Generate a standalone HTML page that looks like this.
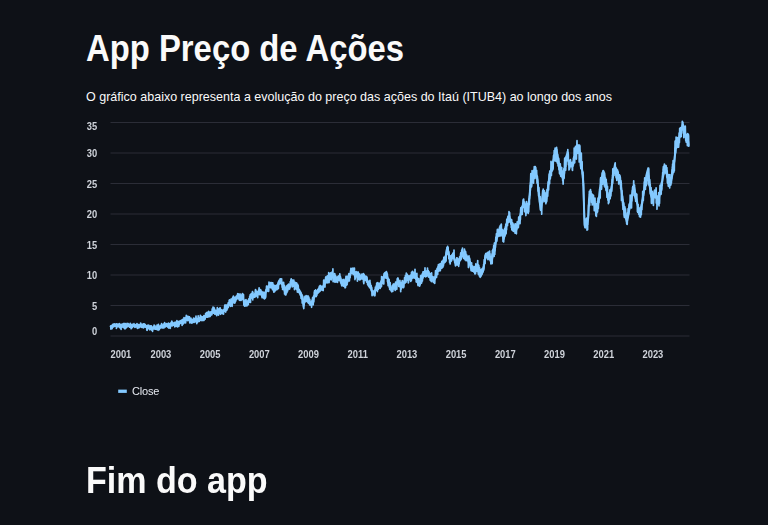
<!DOCTYPE html>
<html lang="pt"><head><meta charset="utf-8"><title>App Preço de Ações</title>
<style>
html,body{margin:0;padding:0;background:#0e1117;}
body{width:768px;height:525px;overflow:hidden;position:relative;font-family:"Liberation Sans",sans-serif;color:#fafafa;}
h1{position:absolute;margin:0;left:85px;font-weight:bold;font-size:36px;line-height:40px;white-space:nowrap;transform-origin:0 0;}
#t1{top:29.2px;left:85.8px;transform:scaleX(0.912);}
#t2{top:460.7px;left:86.1px;transform:scaleX(0.946);}
p{position:absolute;margin:0;left:86px;top:88.7px;font-size:13.2px;line-height:16px;white-space:nowrap;transform-origin:0 0;transform:scaleX(0.949);}
</style></head><body>
<h1 id="t1">App Preço de Ações</h1>
<p id="para">O gráfico abaixo representa a evolução do preço das ações do Itaú (ITUB4) ao longo dos anos</p>
<svg width="768" height="525" viewBox="0 0 768 525" style="position:absolute;left:0;top:0;will-change:transform"><line x1="110.5" x2="689.5" y1="122.5" y2="122.5" stroke="#2b2d37" stroke-width="1"/><line x1="110.5" x2="689.5" y1="153.0" y2="153.0" stroke="#2b2d37" stroke-width="1"/><line x1="110.5" x2="689.5" y1="183.5" y2="183.5" stroke="#2b2d37" stroke-width="1"/><line x1="110.5" x2="689.5" y1="214.0" y2="214.0" stroke="#2b2d37" stroke-width="1"/><line x1="110.5" x2="689.5" y1="244.5" y2="244.5" stroke="#2b2d37" stroke-width="1"/><line x1="110.5" x2="689.5" y1="275.0" y2="275.0" stroke="#2b2d37" stroke-width="1"/><line x1="110.5" x2="689.5" y1="305.5" y2="305.5" stroke="#2b2d37" stroke-width="1"/><line x1="110.5" x2="689.5" y1="336.0" y2="336.0" stroke="#2b2d37" stroke-width="1"/><path d="M110.7 326.4 L111.2 326.3 L111.7 326.3 L112.2 326.2 L112.7 326.2 L113.2 326.1 L113.7 326.1 L114.2 326.0 L114.7 325.9 L115.2 325.9 L115.7 325.8 L116.2 325.8 L116.7 325.7 L117.2 325.7 L117.7 325.6 L118.2 325.5 L118.7 325.5 L119.2 325.4 L119.7 325.4 L120.2 325.4 L120.7 325.5 L121.2 325.5 L121.7 325.5 L122.2 325.6 L122.7 325.6 L123.2 325.6 L123.7 325.7 L124.2 325.7 L124.7 325.7 L125.2 325.7 L125.7 325.8 L126.2 325.8 L126.7 325.8 L127.2 325.9 L127.7 325.9 L128.2 325.9 L128.7 326.0 L129.2 326.0 L129.7 326.0 L130.2 325.9 L130.7 325.9 L131.2 325.9 L131.7 325.9 L132.2 325.8 L132.7 325.8 L133.2 325.8 L133.7 325.7 L134.2 325.7 L134.7 325.7 L135.2 325.6 L135.7 325.6 L136.2 325.6 L136.7 325.5 L137.2 325.5 L137.7 325.5 L138.2 325.5 L138.7 325.4 L139.2 325.5 L139.7 325.5 L140.2 325.6 L140.7 325.7 L141.2 325.8 L141.7 325.9 L142.2 325.9 L142.7 326.0 L143.2 326.1 L143.7 326.2 L144.2 326.3 L144.7 326.4 L145.2 326.5 L145.7 326.6 L146.2 326.8 L146.7 327.0 L147.2 327.2 L147.7 327.3 L148.2 327.5 L148.7 327.7 L149.2 327.8 L149.7 328.0 L150.2 328.2 L150.7 328.3 L151.2 328.3 L151.7 328.2 L152.2 328.1 L152.7 328.1 L153.2 328.0 L153.7 327.9 L154.2 327.8 L154.7 327.7 L155.2 327.6 L155.7 327.5 L156.2 327.4 L156.7 327.3 L157.2 327.3 L157.7 327.2 L158.2 327.1 L158.7 327.0 L159.2 326.9 L159.7 326.8 L160.2 326.6 L160.7 326.5 L161.2 326.4 L161.7 326.3 L162.2 326.2 L162.7 326.1 L163.2 326.0 L163.7 325.9 L164.2 325.7 L164.7 325.6 L165.2 325.5 L165.7 325.4 L166.2 325.3 L166.7 325.2 L167.2 325.1 L167.7 325.0 L168.2 324.9 L168.7 324.8 L169.2 324.7 L169.7 324.6 L170.2 324.6 L170.7 324.5 L171.2 324.4 L171.7 324.4 L172.2 324.3 L172.7 324.2 L173.2 324.2 L173.7 324.1 L174.2 324.0 L174.7 323.9 L175.2 323.9 L175.7 323.8 L176.2 323.7 L176.7 323.7 L177.2 323.6 L177.7 323.5 L178.2 323.4 L178.7 323.1 L179.2 322.9 L179.7 322.7 L180.2 322.4 L180.7 322.2 L181.2 321.9 L181.7 321.7 L182.2 321.4 L182.7 321.1 L183.2 320.9 L183.7 320.6 L184.2 320.2 L184.7 319.6 L185.2 318.9 L185.7 318.3 L186.2 317.7 L186.7 317.2 L187.2 317.1 L187.7 317.7 L188.2 318.4 L188.7 319.1 L189.2 319.8 L189.7 320.4 L190.2 320.8 L190.7 320.9 L191.2 320.8 L191.7 320.8 L192.2 320.7 L192.7 320.6 L193.2 320.6 L193.7 320.5 L194.2 320.5 L194.7 320.4 L195.2 320.3 L195.7 320.3 L196.2 320.2 L196.7 320.1 L197.2 320.1 L197.7 320.0 L198.2 319.8 L198.7 319.6 L199.2 319.4 L199.7 319.2 L200.2 319.0 L200.7 318.8 L201.2 318.7 L201.7 318.5 L202.2 318.3 L202.7 318.1 L203.2 317.9 L203.7 317.7 L204.2 317.5 L204.7 317.3 L205.2 317.1 L205.7 316.8 L206.2 316.4 L206.7 316.0 L207.2 315.6 L207.7 315.3 L208.2 314.9 L208.7 314.5 L209.2 314.1 L209.7 313.7 L210.2 313.3 L210.7 312.9 L211.2 312.5 L211.7 312.1 L212.2 311.7 L212.7 311.3 L213.2 311.0 L213.7 311.0 L214.2 311.1 L214.7 311.2 L215.2 311.3 L215.7 311.4 L216.2 311.6 L216.7 311.7 L217.2 311.7 L217.7 311.7 L218.2 311.6 L218.7 311.6 L219.2 311.5 L219.7 311.4 L220.2 311.4 L220.7 311.3 L221.2 311.2 L221.7 311.2 L222.2 311.1 L222.7 311.0 L223.2 310.7 L223.7 310.3 L224.2 309.8 L224.7 309.3 L225.2 308.8 L225.7 308.3 L226.2 307.8 L226.7 307.3 L227.2 306.8 L227.7 306.3 L228.2 305.8 L228.7 305.3 L229.2 304.8 L229.7 304.2 L230.2 303.7 L230.7 303.2 L231.2 302.6 L231.7 302.1 L232.2 301.5 L232.7 301.0 L233.2 300.4 L233.7 299.9 L234.2 299.4 L234.7 298.8 L235.2 298.3 L235.7 297.8 L236.2 297.4 L236.7 297.2 L237.2 297.0 L237.7 296.9 L238.2 296.7 L238.7 296.6 L239.2 296.5 L239.7 296.6 L240.2 296.7 L240.7 296.9 L241.2 297.1 L241.7 297.3 L242.2 297.6 L242.7 298.4 L243.2 299.4 L243.7 300.4 L244.2 301.4 L244.7 302.4 L245.2 303.3 L245.7 303.4 L246.2 303.0 L246.7 302.5 L247.2 302.0 L247.7 301.4 L248.2 300.8 L248.7 300.3 L249.2 299.8 L249.7 299.3 L250.2 298.8 L250.7 298.3 L251.2 297.8 L251.7 297.3 L252.2 296.8 L252.7 296.3 L253.2 295.9 L253.7 295.4 L254.2 294.9 L254.7 294.4 L255.2 294.0 L255.7 293.7 L256.2 293.4 L256.7 293.0 L257.2 292.7 L257.7 292.4 L258.2 292.3 L258.7 292.2 L259.2 292.2 L259.7 292.2 L260.2 292.3 L260.7 292.4 L261.2 292.8 L261.7 293.7 L262.2 294.6 L262.7 295.5 L263.2 296.3 L263.7 296.6 L264.2 295.5 L264.7 294.3 L265.2 292.9 L265.7 291.6 L266.2 290.2 L266.7 289.4 L267.2 288.5 L267.7 287.7 L268.2 287.0 L268.7 286.3 L269.2 285.9 L269.7 285.6 L270.2 285.3 L270.7 285.0 L271.2 284.8 L271.7 284.7 L272.2 285.1 L272.7 285.9 L273.2 286.7 L273.7 287.6 L274.2 288.4 L274.7 289.2 L275.2 289.6 L275.7 289.0 L276.2 288.3 L276.7 287.6 L277.2 286.6 L277.7 285.4 L278.2 284.2 L278.7 283.1 L279.2 282.8 L279.7 282.5 L280.2 282.3 L280.7 282.2 L281.2 282.2 L281.7 282.2 L282.2 283.4 L282.7 285.0 L283.2 286.6 L283.7 288.3 L284.2 289.8 L284.7 291.0 L285.2 292.1 L285.7 292.3 L286.2 291.4 L286.7 290.3 L287.2 289.1 L287.7 288.2 L288.2 287.9 L288.7 287.6 L289.2 287.3 L289.7 287.1 L290.2 286.7 L290.7 285.5 L291.2 284.2 L291.7 282.8 L292.2 281.6 L292.7 280.6 L293.2 281.3 L293.7 282.5 L294.2 283.8 L294.7 285.2 L295.2 286.2 L295.7 286.9 L296.2 287.5 L296.7 288.1 L297.2 288.7 L297.7 289.3 L298.2 289.8 L298.7 290.3 L299.2 290.8 L299.7 291.3 L300.2 291.9 L300.7 292.6 L301.2 293.8 L301.7 295.1 L302.2 296.7 L302.7 298.1 L303.2 302.7 L303.7 305.7 L304.2 302.7 L304.7 299.9 L305.2 299.0 L305.7 298.0 L306.2 297.4 L306.7 296.9 L307.2 297.4 L307.7 298.2 L308.2 299.1 L308.7 300.0 L309.2 300.8 L309.7 301.5 L310.2 302.1 L310.7 302.6 L311.2 303.1 L311.7 302.9 L312.2 301.8 L312.7 300.7 L313.2 299.5 L313.7 298.3 L314.2 297.2 L314.7 296.1 L315.2 295.1 L315.7 294.1 L316.2 293.4 L316.7 293.1 L317.2 292.8 L317.7 292.6 L318.2 292.3 L318.7 291.9 L319.2 291.4 L319.7 290.9 L320.2 290.4 L320.7 289.8 L321.2 289.3 L321.7 288.8 L322.2 288.2 L322.7 287.4 L323.2 286.4 L323.7 285.5 L324.2 284.5 L324.7 283.6 L325.2 282.6 L325.7 281.8 L326.2 281.1 L326.7 280.4 L327.2 279.7 L327.7 279.0 L328.2 278.3 L328.7 277.7 L329.2 277.0 L329.7 276.3 L330.2 275.6 L330.7 275.0 L331.2 274.5 L331.7 274.0 L332.2 275.0 L332.7 276.1 L333.2 277.2 L333.7 278.3 L334.2 279.3 L334.7 279.4 L335.2 279.1 L335.7 278.8 L336.2 278.4 L336.7 278.0 L337.2 277.7 L337.7 277.5 L338.2 277.3 L338.7 277.2 L339.2 277.1 L339.7 277.4 L340.2 278.3 L340.7 279.2 L341.2 280.2 L341.7 281.1 L342.2 282.0 L342.7 282.7 L343.2 283.3 L343.7 283.8 L344.2 284.3 L344.7 284.6 L345.2 283.4 L345.7 282.1 L346.2 280.7 L346.7 279.3 L347.2 278.4 L347.7 277.6 L348.2 277.0 L348.7 276.3 L349.2 275.6 L349.7 274.9 L350.2 274.2 L350.7 273.4 L351.2 272.6 L351.7 271.9 L352.2 271.2 L352.7 271.0 L353.2 271.5 L353.7 272.1 L354.2 272.7 L354.7 273.4 L355.2 274.0 L355.7 274.6 L356.2 275.0 L356.7 275.4 L357.2 275.7 L357.7 276.1 L358.2 276.4 L358.7 276.7 L359.2 276.9 L359.7 277.1 L360.2 277.3 L360.7 277.5 L361.2 277.7 L361.7 277.8 L362.2 278.0 L362.7 278.2 L363.2 278.4 L363.7 278.6 L364.2 278.8 L364.7 279.0 L365.2 279.2 L365.7 279.4 L366.2 279.6 L366.7 279.8 L367.2 280.2 L367.7 280.9 L368.2 281.6 L368.7 282.5 L369.2 283.3 L369.7 284.2 L370.2 285.8 L370.7 287.5 L371.2 289.1 L371.7 290.6 L372.2 291.3 L372.7 291.6 L373.2 291.9 L373.7 292.0 L374.2 292.1 L374.7 291.6 L375.2 290.7 L375.7 289.8 L376.2 288.9 L376.7 288.1 L377.2 287.5 L377.7 287.0 L378.2 286.5 L378.7 286.0 L379.2 285.4 L379.7 284.8 L380.2 283.9 L380.7 282.9 L381.2 282.0 L381.7 281.0 L382.2 280.0 L382.7 279.0 L383.2 277.8 L383.7 276.6 L384.2 275.5 L384.7 274.4 L385.2 273.5 L385.7 273.6 L386.2 274.4 L386.7 275.4 L387.2 276.5 L387.7 278.1 L388.2 280.0 L388.7 281.9 L389.2 283.8 L389.7 285.5 L390.2 286.8 L390.7 288.1 L391.2 289.2 L391.7 289.2 L392.2 289.0 L392.7 288.5 L393.2 288.0 L393.7 287.4 L394.2 286.8 L394.7 286.2 L395.2 285.5 L395.7 284.6 L396.2 283.8 L396.7 283.0 L397.2 282.2 L397.7 281.5 L398.2 281.0 L398.7 282.0 L399.2 283.5 L399.7 285.1 L400.2 286.6 L400.7 287.6 L401.2 287.1 L401.7 286.4 L402.2 285.7 L402.7 284.8 L403.2 284.0 L403.7 282.9 L404.2 281.8 L404.7 280.6 L405.2 279.5 L405.7 278.4 L406.2 277.4 L406.7 277.2 L407.2 277.3 L407.7 277.5 L408.2 277.6 L408.7 277.8 L409.2 277.8 L409.7 277.4 L410.2 276.9 L410.7 276.4 L411.2 276.0 L411.7 275.5 L412.2 275.1 L412.7 274.7 L413.2 274.6 L413.7 274.6 L414.2 274.6 L414.7 274.7 L415.2 274.8 L415.7 275.6 L416.2 276.8 L416.7 278.0 L417.2 279.3 L417.7 280.6 L418.2 281.7 L418.7 282.8 L419.2 282.9 L419.7 282.3 L420.2 281.6 L420.7 280.7 L421.2 279.9 L421.7 279.1 L422.2 278.3 L422.7 277.4 L423.2 276.6 L423.7 275.7 L424.2 274.9 L424.7 274.1 L425.2 273.5 L425.7 273.2 L426.2 272.9 L426.7 272.7 L427.2 272.6 L427.7 272.9 L428.2 273.7 L428.7 274.4 L429.2 275.2 L429.7 276.0 L430.2 276.8 L430.7 277.6 L431.2 278.0 L431.7 278.2 L432.2 278.4 L432.7 278.5 L433.2 278.6 L433.7 278.7 L434.2 278.8 L434.7 278.7 L435.2 277.5 L435.7 275.7 L436.2 273.8 L436.7 271.8 L437.2 270.1 L437.7 269.2 L438.2 268.3 L438.7 267.5 L439.2 266.7 L439.7 266.0 L440.2 265.4 L440.7 265.2 L441.2 265.0 L441.7 264.9 L442.2 264.7 L442.7 264.4 L443.2 264.1 L443.7 263.2 L444.2 261.8 L444.7 260.3 L445.2 258.7 L445.7 256.9 L446.2 253.6 L446.7 250.6 L447.2 247.7 L447.7 248.3 L448.2 251.1 L448.7 254.1 L449.2 256.9 L449.7 257.7 L450.2 258.4 L450.7 258.9 L451.2 259.2 L451.7 258.6 L452.2 257.6 L452.7 256.6 L453.2 256.1 L453.7 257.5 L454.2 259.0 L454.7 260.5 L455.2 262.0 L455.7 262.6 L456.2 262.4 L456.7 262.1 L457.2 261.7 L457.7 261.3 L458.2 260.9 L458.7 260.2 L459.2 259.4 L459.7 258.6 L460.2 257.8 L460.7 257.0 L461.2 256.2 L461.7 255.6 L462.2 255.0 L462.7 254.4 L463.2 253.9 L463.7 253.5 L464.2 253.7 L464.7 254.8 L465.2 255.9 L465.7 257.1 L466.2 258.2 L466.7 259.0 L467.2 259.7 L467.7 260.3 L468.2 260.9 L468.7 261.6 L469.2 262.5 L469.7 263.8 L470.2 265.2 L470.7 266.7 L471.2 268.1 L471.7 269.4 L472.2 270.4 L472.7 270.8 L473.2 271.1 L473.7 271.3 L474.2 271.5 L474.7 271.5 L475.2 270.4 L475.7 269.2 L476.2 268.0 L476.7 266.7 L477.2 265.7 L477.7 264.8 L478.2 266.6 L478.7 268.5 L479.2 270.6 L479.7 272.7 L480.2 274.6 L480.7 275.9 L481.2 275.1 L481.7 274.1 L482.2 273.0 L482.7 271.7 L483.2 270.2 L483.7 267.9 L484.2 264.3 L484.7 260.7 L485.2 257.2 L485.7 255.0 L486.2 254.6 L486.7 254.3 L487.2 254.3 L487.7 254.4 L488.2 254.6 L488.7 255.4 L489.2 256.8 L489.7 258.2 L490.2 259.6 L490.7 260.9 L491.2 261.9 L491.7 260.6 L492.2 258.5 L492.7 256.2 L493.2 253.8 L493.7 251.4 L494.2 249.0 L494.7 246.8 L495.2 244.8 L495.7 242.8 L496.2 240.8 L496.7 238.9 L497.2 237.4 L497.7 236.3 L498.2 235.3 L498.7 234.3 L499.2 233.2 L499.7 232.2 L500.2 231.3 L500.7 230.5 L501.2 229.8 L501.7 230.8 L502.2 233.0 L502.7 235.1 L503.2 237.2 L503.7 239.0 L504.2 236.9 L504.7 234.6 L505.2 232.0 L505.7 229.2 L506.2 226.5 L506.7 223.8 L507.2 221.1 L507.7 218.6 L508.2 216.3 L508.7 216.4 L509.2 217.3 L509.7 218.3 L510.2 219.5 L510.7 220.6 L511.2 221.8 L511.7 222.9 L512.2 223.8 L512.7 224.7 L513.2 225.6 L513.7 226.5 L514.2 227.3 L514.7 228.2 L515.2 229.0 L515.7 229.7 L516.2 230.2 L516.7 229.0 L517.2 227.3 L517.7 225.4 L518.2 223.3 L518.7 221.3 L519.2 219.3 L519.7 217.3 L520.2 215.4 L520.7 213.4 L521.2 211.4 L521.7 209.5 L522.2 207.5 L522.7 205.7 L523.2 203.9 L523.7 202.4 L524.2 202.9 L524.7 204.1 L525.2 205.4 L525.7 206.9 L526.2 208.4 L526.7 209.7 L527.2 210.7 L527.7 211.4 L528.2 207.6 L528.7 203.5 L529.2 199.0 L529.7 194.5 L530.2 189.9 L530.7 185.6 L531.2 181.3 L531.7 179.0 L532.2 176.8 L532.7 174.8 L533.2 173.0 L533.7 171.3 L534.2 170.3 L534.7 171.3 L535.2 172.5 L535.7 173.9 L536.2 175.3 L536.7 177.0 L537.2 178.8 L537.7 182.8 L538.2 187.4 L538.7 192.2 L539.2 197.1 L539.7 201.8 L540.2 206.1 L540.7 209.9 L541.2 207.9 L541.7 204.2 L542.2 200.1 L542.7 196.0 L543.2 192.2 L543.7 192.4 L544.2 194.0 L544.7 195.8 L545.2 197.6 L545.7 199.2 L546.2 198.9 L546.7 195.9 L547.2 192.6 L547.7 189.1 L548.2 185.5 L548.7 182.0 L549.2 178.6 L549.7 175.7 L550.2 173.5 L550.7 171.3 L551.2 169.3 L551.7 167.3 L552.2 165.3 L552.7 163.2 L553.2 161.3 L553.7 159.5 L554.2 157.6 L554.7 155.8 L555.2 154.0 L555.7 152.5 L556.2 151.2 L556.7 152.5 L557.2 154.6 L557.7 156.9 L558.2 159.5 L558.7 162.0 L559.2 164.4 L559.7 166.9 L560.2 168.9 L560.7 170.9 L561.2 172.9 L561.7 174.8 L562.2 176.6 L562.7 178.1 L563.2 179.3 L563.7 176.0 L564.2 172.5 L564.7 168.6 L565.2 164.6 L565.7 160.8 L566.2 157.3 L566.7 154.9 L567.2 156.2 L567.7 157.8 L568.2 159.7 L568.7 161.7 L569.2 163.6 L569.7 165.4 L570.2 166.3 L570.7 165.9 L571.2 165.4 L571.7 164.8 L572.2 164.1 L572.7 163.4 L573.2 162.6 L573.7 161.2 L574.2 159.2 L574.7 157.1 L575.2 155.0 L575.7 152.9 L576.2 151.4 L576.7 150.1 L577.2 148.9 L577.7 147.8 L578.2 147.0 L578.7 146.4 L579.2 149.3 L579.7 152.4 L580.2 155.7 L580.7 159.2 L581.2 162.7 L581.7 166.5 L582.2 171.0 L582.7 176.3 L583.2 182.2 L583.7 196.9 L584.2 213.5 L584.7 224.1 L585.2 225.7 L585.7 226.2 L586.2 225.7 L586.7 224.7 L587.2 222.9 L587.7 220.6 L588.2 218.0 L588.7 208.6 L589.2 199.1 L589.7 197.1 L590.2 195.3 L590.7 194.2 L591.2 194.9 L591.7 196.0 L592.2 197.2 L592.7 198.6 L593.2 200.1 L593.7 201.9 L594.2 203.7 L594.7 205.6 L595.2 207.9 L595.7 210.0 L596.2 211.8 L596.7 212.6 L597.2 209.7 L597.7 206.5 L598.2 203.0 L598.7 199.4 L599.2 195.8 L599.7 192.2 L600.2 188.8 L600.7 185.5 L601.2 182.3 L601.7 179.1 L602.2 176.0 L602.7 173.2 L603.2 170.8 L603.7 172.3 L604.2 175.0 L604.7 178.1 L605.2 181.4 L605.7 184.7 L606.2 187.9 L606.7 191.2 L607.2 194.3 L607.7 197.1 L608.2 199.7 L608.7 199.1 L609.2 197.5 L609.7 195.7 L610.2 193.7 L610.7 191.5 L611.2 189.3 L611.7 186.2 L612.2 182.5 L612.7 178.7 L613.2 174.9 L613.7 171.4 L614.2 168.2 L614.7 167.3 L615.2 169.8 L615.7 172.5 L616.2 175.4 L616.7 178.1 L617.2 178.2 L617.7 177.5 L618.2 176.6 L618.7 175.9 L619.2 175.3 L619.7 177.1 L620.2 180.6 L620.7 184.2 L621.2 188.1 L621.7 192.0 L622.2 195.9 L622.7 199.3 L623.2 202.6 L623.7 205.8 L624.2 208.9 L624.7 211.8 L625.2 214.0 L625.7 216.0 L626.2 217.9 L626.7 219.5 L627.2 220.9 L627.7 218.5 L628.2 216.0 L628.7 213.2 L629.2 210.2 L629.7 207.3 L630.2 204.4 L630.7 201.5 L631.2 199.1 L631.7 196.8 L632.2 194.4 L632.7 192.1 L633.2 190.0 L633.7 188.2 L634.2 188.0 L634.7 190.2 L635.2 192.7 L635.7 195.4 L636.2 198.1 L636.7 200.7 L637.2 203.4 L637.7 205.2 L638.2 207.0 L638.7 208.8 L639.2 210.4 L639.7 211.8 L640.2 212.9 L640.7 210.4 L641.2 207.7 L641.7 204.7 L642.2 201.6 L642.7 198.5 L643.2 195.4 L643.7 192.3 L644.2 189.4 L644.7 186.5 L645.2 183.5 L645.7 180.6 L646.2 177.7 L646.7 174.9 L647.2 172.5 L647.7 170.4 L648.2 173.0 L648.7 177.1 L649.2 181.5 L649.7 186.0 L650.2 190.4 L650.7 194.2 L651.2 196.1 L651.7 197.7 L652.2 199.0 L652.7 200.1 L653.2 199.2 L653.7 197.0 L654.2 194.8 L654.7 192.7 L655.2 191.5 L655.7 193.4 L656.2 195.5 L656.7 197.8 L657.2 199.9 L657.7 201.8 L658.2 201.3 L658.7 199.2 L659.2 196.7 L659.7 194.1 L660.2 191.4 L660.7 188.8 L661.2 186.2 L661.7 183.7 L662.2 181.2 L662.7 178.7 L663.2 176.1 L663.7 173.7 L664.2 171.4 L664.7 169.3 L665.2 168.8 L665.7 170.4 L666.2 172.3 L666.7 174.3 L667.2 176.4 L667.7 178.3 L668.2 179.5 L668.7 180.6 L669.2 181.6 L669.7 182.5 L670.2 183.1 L670.7 182.6 L671.2 180.5 L671.7 178.1 L672.2 175.5 L672.7 172.9 L673.2 170.1 L673.7 166.5 L674.2 162.2 L674.7 157.9 L675.2 153.5 L675.7 149.2 L676.2 145.1 L676.7 141.4 L677.2 140.5 L677.7 141.5 L678.2 142.6 L678.7 140.9 L679.2 138.4 L679.7 135.9 L680.2 134.0 L680.7 132.1 L681.2 130.3 L681.7 128.7 L682.2 127.3 L682.7 126.1 L683.2 125.1 L683.7 127.6 L684.2 130.2 L684.7 132.9 L685.2 135.1 L685.7 137.1 L686.2 138.8 L686.7 138.6 L687.2 137.9 L687.7 138.2 L688.2 142.0 L688.7 146.0" fill="none" stroke="#83c9ff" stroke-width="2.0" stroke-linejoin="round" stroke-linecap="round"/><path d="M110.7 326.0 L110.8 326.9 L110.9 329.1 L111.0 326.5 L111.1 326.3 L111.2 325.7 L111.3 325.6 L111.4 325.7 L111.5 326.1 L111.6 325.6 L111.7 325.7 L111.8 326.5 L111.9 326.6 L112.0 326.2 L112.1 328.6 L112.2 327.6 L112.3 326.9 L112.4 326.2 L112.5 326.3 L112.6 325.8 L112.7 326.0 L112.8 324.4 L112.9 324.9 L113.0 325.1 L113.1 326.8 L113.2 326.9 L113.3 324.2 L113.4 324.3 L113.5 326.9 L113.6 324.8 L113.7 327.0 L113.8 324.1 L113.9 325.0 L114.0 324.0 L114.1 325.1 L114.2 324.9 L114.3 325.5 L114.4 323.9 L114.5 324.7 L114.6 325.5 L114.7 324.8 L114.8 325.3 L114.9 324.8 L115.0 324.2 L115.1 325.4 L115.2 325.0 L115.3 325.5 L115.4 324.7 L115.5 324.9 L115.6 325.0 L115.7 326.2 L115.8 324.7 L115.9 324.0 L116.0 326.4 L116.1 325.5 L116.2 326.0 L116.3 323.9 L116.4 328.4 L116.5 327.5 L116.6 326.9 L116.7 325.8 L116.8 325.6 L116.9 324.8 L117.0 326.3 L117.1 324.1 L117.2 325.3 L117.3 326.8 L117.4 326.3 L117.5 326.0 L117.6 325.3 L117.7 324.7 L117.8 325.0 L117.9 324.1 L118.0 325.5 L118.1 324.9 L118.2 325.2 L118.3 324.4 L118.4 325.3 L118.5 325.0 L118.6 326.7 L118.7 325.2 L118.8 326.3 L118.9 325.4 L119.0 326.7 L119.1 326.0 L119.2 324.9 L119.3 323.6 L119.4 326.9 L119.5 325.7 L119.6 327.5 L119.7 326.2 L119.8 325.9 L119.9 327.3 L120.0 327.2 L120.1 327.5 L120.2 325.4 L120.3 328.1 L120.4 327.4 L120.5 326.4 L120.6 325.4 L120.7 327.1 L120.8 324.3 L120.9 325.4 L121.0 325.9 L121.1 329.4 L121.2 324.5 L121.3 326.7 L121.4 328.0 L121.5 326.2 L121.6 324.5 L121.7 326.0 L121.8 326.5 L121.9 325.7 L122.0 326.0 L122.1 326.0 L122.2 324.1 L122.3 325.7 L122.4 326.2 L122.5 326.2 L122.6 326.8 L122.7 324.8 L122.8 325.7 L122.9 326.2 L123.0 327.1 L123.1 325.0 L123.2 323.8 L123.3 324.3 L123.4 325.7 L123.5 324.6 L123.6 327.4 L123.7 325.3 L123.8 325.8 L123.9 326.2 L124.0 323.4 L124.1 326.9 L124.2 328.1 L124.3 326.6 L124.4 326.8 L124.5 325.9 L124.6 326.9 L124.7 326.8 L124.8 328.4 L124.9 328.9 L125.0 326.6 L125.1 326.4 L125.2 324.2 L125.3 323.5 L125.4 326.1 L125.5 326.2 L125.6 327.1 L125.7 328.5 L125.8 324.2 L125.9 327.1 L126.0 326.9 L126.1 325.4 L126.2 325.4 L126.3 325.2 L126.4 324.7 L126.5 326.9 L126.6 325.7 L126.7 324.7 L126.8 323.9 L126.9 327.3 L127.0 325.5 L127.1 323.4 L127.2 325.3 L127.3 324.4 L127.4 324.8 L127.5 325.4 L127.6 325.8 L127.7 324.0 L127.8 325.9 L127.9 325.0 L128.0 325.3 L128.1 325.3 L128.2 323.7 L128.3 325.7 L128.4 324.9 L128.5 325.2 L128.6 325.8 L128.7 326.2 L128.8 324.9 L128.9 325.8 L129.0 325.9 L129.1 325.8 L129.2 325.3 L129.3 326.2 L129.4 327.1 L129.5 325.9 L129.6 324.6 L129.7 324.9 L129.8 326.7 L129.9 325.7 L130.0 325.5 L130.1 323.6 L130.2 326.2 L130.3 323.4 L130.4 327.3 L130.5 326.1 L130.6 326.9 L130.7 326.7 L130.8 325.2 L130.9 326.2 L131.0 325.6 L131.1 328.8 L131.2 327.5 L131.3 328.5 L131.4 325.8 L131.5 326.8 L131.6 326.0 L131.7 326.8 L131.8 327.6 L131.9 326.9 L132.0 324.3 L132.1 324.3 L132.2 327.3 L132.3 327.5 L132.4 325.5 L132.5 325.5 L132.6 326.5 L132.7 326.4 L132.8 324.4 L132.9 325.7 L133.0 325.0 L133.1 325.7 L133.2 325.3 L133.3 324.4 L133.4 325.5 L133.5 326.5 L133.6 324.9 L133.7 324.3 L133.8 326.2 L133.9 325.8 L134.0 323.7 L134.1 326.2 L134.2 325.5 L134.3 325.6 L134.4 324.5 L134.5 325.1 L134.6 324.9 L134.7 325.5 L134.8 325.3 L134.9 327.4 L135.0 326.6 L135.1 326.8 L135.2 326.3 L135.3 327.1 L135.4 326.6 L135.5 326.8 L135.6 325.6 L135.7 324.9 L135.8 324.6 L135.9 325.1 L136.0 326.6 L136.1 325.8 L136.2 327.0 L136.3 325.3 L136.4 325.0 L136.5 324.9 L136.6 325.8 L136.7 326.8 L136.8 325.7 L136.9 327.2 L137.0 323.5 L137.1 325.9 L137.2 326.6 L137.3 326.1 L137.4 328.4 L137.5 325.6 L137.6 326.1 L137.7 325.6 L137.8 324.5 L137.9 327.3 L138.0 326.3 L138.1 326.9 L138.2 324.9 L138.3 328.0 L138.4 324.6 L138.5 326.5 L138.6 325.1 L138.7 325.3 L138.8 325.2 L138.9 326.4 L139.0 327.8 L139.1 325.7 L139.2 325.6 L139.3 325.1 L139.4 325.1 L139.5 327.4 L139.6 325.5 L139.7 326.2 L139.8 324.6 L139.9 324.7 L140.0 325.1 L140.1 326.0 L140.2 324.4 L140.3 325.9 L140.4 326.8 L140.5 326.6 L140.6 323.0 L140.7 323.2 L140.8 326.6 L140.9 325.5 L141.0 325.5 L141.1 325.3 L141.2 326.7 L141.3 324.0 L141.4 325.5 L141.5 325.6 L141.6 325.8 L141.7 325.7 L141.8 327.4 L141.9 326.3 L142.0 326.4 L142.1 326.3 L142.2 326.4 L142.3 325.3 L142.4 325.2 L142.5 326.8 L142.6 324.3 L142.7 325.8 L142.8 326.1 L142.9 326.4 L143.0 327.5 L143.1 325.9 L143.2 323.9 L143.3 324.9 L143.4 325.8 L143.5 327.9 L143.6 326.4 L143.7 327.0 L143.8 327.0 L143.9 326.5 L144.0 323.8 L144.1 324.0 L144.2 325.4 L144.3 326.0 L144.4 326.3 L144.5 326.7 L144.6 324.7 L144.7 324.0 L144.8 326.3 L144.9 326.0 L145.0 326.9 L145.1 326.5 L145.2 326.8 L145.3 324.7 L145.4 325.5 L145.5 326.1 L145.6 327.1 L145.7 326.0 L145.8 326.5 L145.9 326.0 L146.0 326.0 L146.1 327.5 L146.2 325.7 L146.3 326.4 L146.4 327.6 L146.5 327.2 L146.6 326.7 L146.7 327.1 L146.8 330.1 L146.9 327.5 L147.0 328.6 L147.1 330.0 L147.2 330.3 L147.3 325.5 L147.4 326.7 L147.5 326.7 L147.6 328.1 L147.7 328.0 L147.8 328.2 L147.9 325.7 L148.0 325.2 L148.1 326.4 L148.2 327.7 L148.3 328.1 L148.4 327.4 L148.5 327.8 L148.6 328.1 L148.7 327.6 L148.8 326.5 L148.9 325.4 L149.0 326.5 L149.1 328.1 L149.2 329.1 L149.3 328.0 L149.4 327.4 L149.5 327.3 L149.6 328.1 L149.7 326.9 L149.8 328.9 L149.9 329.8 L150.0 326.9 L150.1 327.0 L150.2 327.4 L150.3 327.4 L150.4 329.0 L150.5 325.9 L150.6 328.0 L150.7 326.2 L150.8 326.9 L150.9 328.7 L151.0 329.0 L151.1 328.6 L151.2 329.1 L151.3 325.8 L151.4 328.1 L151.5 327.7 L151.6 326.8 L151.7 330.1 L151.8 327.5 L151.9 327.2 L152.0 327.1 L152.1 328.0 L152.2 328.1 L152.3 327.8 L152.4 330.1 L152.5 328.3 L152.6 331.4 L152.7 328.2 L152.8 328.3 L152.9 327.2 L153.0 328.8 L153.1 327.6 L153.2 328.0 L153.3 328.9 L153.4 328.3 L153.5 326.4 L153.6 328.3 L153.7 328.2 L153.8 328.3 L153.9 327.0 L154.0 328.2 L154.1 325.2 L154.2 328.1 L154.3 326.8 L154.4 329.0 L154.5 327.4 L154.6 327.4 L154.7 327.9 L154.8 325.5 L154.9 328.6 L155.0 326.1 L155.1 328.4 L155.2 327.1 L155.3 328.9 L155.4 329.2 L155.5 327.4 L155.6 327.6 L155.7 329.1 L155.8 327.0 L155.9 328.4 L156.0 327.6 L156.1 327.6 L156.2 328.2 L156.3 328.6 L156.4 328.4 L156.5 329.3 L156.6 329.0 L156.7 328.3 L156.8 327.2 L156.9 328.2 L157.0 325.0 L157.1 327.2 L157.2 327.8 L157.3 329.3 L157.4 326.4 L157.5 326.1 L157.6 327.4 L157.7 326.9 L157.8 326.4 L157.9 326.5 L158.0 326.0 L158.1 330.3 L158.2 327.1 L158.3 325.8 L158.4 324.3 L158.5 327.0 L158.6 326.1 L158.7 326.6 L158.8 327.1 L158.9 328.1 L159.0 326.1 L159.1 327.8 L159.2 327.8 L159.3 329.6 L159.4 328.7 L159.5 326.2 L159.6 326.6 L159.7 326.6 L159.8 327.0 L159.9 328.5 L160.0 327.3 L160.1 327.5 L160.2 327.8 L160.3 326.2 L160.4 327.3 L160.5 326.4 L160.6 326.8 L160.7 328.0 L160.8 326.0 L160.9 325.2 L161.0 325.2 L161.1 327.8 L161.2 325.8 L161.3 326.4 L161.4 326.4 L161.5 325.3 L161.6 323.5 L161.7 326.2 L161.8 326.8 L161.9 324.6 L162.0 325.5 L162.1 325.2 L162.2 326.5 L162.3 327.9 L162.4 327.7 L162.5 326.8 L162.6 326.6 L162.7 327.2 L162.8 326.4 L162.9 327.8 L163.0 326.8 L163.1 326.7 L163.2 327.6 L163.3 326.7 L163.4 326.8 L163.5 326.2 L163.6 324.0 L163.7 326.0 L163.8 325.5 L163.9 326.8 L164.0 327.8 L164.1 326.9 L164.2 325.7 L164.3 324.8 L164.4 325.6 L164.5 325.9 L164.6 322.6 L164.7 324.8 L164.8 326.3 L164.9 323.3 L165.0 325.1 L165.1 325.4 L165.2 326.2 L165.3 325.6 L165.4 327.0 L165.5 325.9 L165.6 326.2 L165.7 326.6 L165.8 325.2 L165.9 324.5 L166.0 324.2 L166.1 326.2 L166.2 324.7 L166.3 324.9 L166.4 323.9 L166.5 325.8 L166.6 325.1 L166.7 323.6 L166.8 325.3 L166.9 324.3 L167.0 325.0 L167.1 326.1 L167.2 324.5 L167.3 324.4 L167.4 324.1 L167.5 325.3 L167.6 326.4 L167.7 326.4 L167.8 327.1 L167.9 324.0 L168.0 327.5 L168.1 327.0 L168.2 326.1 L168.3 324.2 L168.4 323.0 L168.5 326.2 L168.6 324.9 L168.7 324.9 L168.8 326.5 L168.9 328.1 L169.0 325.3 L169.1 326.3 L169.2 326.8 L169.3 325.7 L169.4 325.2 L169.5 325.6 L169.6 325.1 L169.7 324.9 L169.8 324.7 L169.9 323.6 L170.0 325.3 L170.1 325.1 L170.2 326.1 L170.3 328.3 L170.4 325.1 L170.5 325.4 L170.6 324.9 L170.7 324.2 L170.8 324.2 L170.9 324.3 L171.0 325.4 L171.1 322.4 L171.2 322.8 L171.3 324.3 L171.4 323.6 L171.5 323.0 L171.6 323.1 L171.7 322.9 L171.8 321.2 L171.9 324.9 L172.0 322.8 L172.1 326.1 L172.2 322.6 L172.3 324.6 L172.4 322.0 L172.5 323.9 L172.6 324.1 L172.7 323.6 L172.8 323.2 L172.9 324.3 L173.0 324.5 L173.1 324.1 L173.2 324.8 L173.3 324.0 L173.4 323.7 L173.5 325.1 L173.6 324.4 L173.7 324.7 L173.8 324.0 L173.9 325.5 L174.0 324.9 L174.1 323.7 L174.2 322.5 L174.3 323.7 L174.4 323.9 L174.5 325.5 L174.6 325.9 L174.7 324.4 L174.8 327.0 L174.9 322.3 L175.0 322.5 L175.1 323.8 L175.2 324.8 L175.3 323.9 L175.4 325.0 L175.5 324.8 L175.6 324.9 L175.7 325.7 L175.8 326.2 L175.9 323.5 L176.0 323.2 L176.1 321.8 L176.2 323.1 L176.3 326.2 L176.4 324.7 L176.5 324.7 L176.6 323.8 L176.7 323.4 L176.8 324.6 L176.9 320.7 L177.0 324.9 L177.1 324.5 L177.2 325.6 L177.3 324.6 L177.4 327.0 L177.5 325.2 L177.6 325.1 L177.7 325.4 L177.8 323.4 L177.9 324.2 L178.0 321.5 L178.1 324.3 L178.2 321.6 L178.3 321.5 L178.4 323.8 L178.5 323.5 L178.6 321.6 L178.7 324.2 L178.8 326.5 L178.9 324.5 L179.0 324.2 L179.1 324.2 L179.2 323.4 L179.3 321.9 L179.4 324.8 L179.5 323.6 L179.6 323.2 L179.7 321.4 L179.8 321.5 L179.9 321.2 L180.0 320.9 L180.1 321.0 L180.2 321.7 L180.3 322.0 L180.4 322.8 L180.5 321.2 L180.6 322.5 L180.7 323.1 L180.8 320.7 L180.9 321.3 L181.0 321.1 L181.1 321.4 L181.2 321.1 L181.3 320.7 L181.4 322.6 L181.5 321.7 L181.6 322.5 L181.7 320.2 L181.8 321.1 L181.9 321.1 L182.0 322.3 L182.1 325.5 L182.2 322.6 L182.3 320.6 L182.4 320.2 L182.5 323.2 L182.6 320.8 L182.7 321.9 L182.8 319.4 L182.9 320.1 L183.0 322.6 L183.1 321.7 L183.2 322.0 L183.3 324.0 L183.4 319.9 L183.5 322.4 L183.6 321.6 L183.7 321.9 L183.8 323.4 L183.9 322.6 L184.0 317.5 L184.1 321.0 L184.2 320.1 L184.3 321.2 L184.4 319.7 L184.5 321.0 L184.6 321.7 L184.7 319.8 L184.8 319.6 L184.9 319.7 L185.0 318.4 L185.1 319.7 L185.2 321.9 L185.3 320.3 L185.4 320.0 L185.5 321.1 L185.6 323.0 L185.7 318.9 L185.8 319.4 L185.9 319.0 L186.0 318.7 L186.1 317.0 L186.2 319.0 L186.3 315.3 L186.4 315.6 L186.5 319.6 L186.6 320.3 L186.7 317.1 L186.8 318.2 L186.9 316.0 L187.0 318.1 L187.1 318.0 L187.2 318.6 L187.3 318.5 L187.4 316.4 L187.5 320.3 L187.6 319.1 L187.7 320.6 L187.8 318.3 L187.9 318.5 L188.0 319.8 L188.1 316.5 L188.2 316.9 L188.3 317.9 L188.4 319.6 L188.5 319.7 L188.6 316.7 L188.7 319.9 L188.8 320.2 L188.9 319.4 L189.0 320.4 L189.1 319.1 L189.2 318.4 L189.3 317.6 L189.4 316.8 L189.5 318.4 L189.6 318.9 L189.7 319.8 L189.8 323.0 L189.9 321.4 L190.0 321.0 L190.1 319.9 L190.2 322.1 L190.3 321.0 L190.4 320.3 L190.5 320.4 L190.6 321.1 L190.7 319.0 L190.8 320.7 L190.9 318.0 L191.0 320.2 L191.1 319.1 L191.2 322.9 L191.3 319.0 L191.4 320.5 L191.5 321.3 L191.6 321.7 L191.7 319.7 L191.8 323.2 L191.9 321.2 L192.0 322.3 L192.1 322.4 L192.2 321.9 L192.3 322.2 L192.4 321.1 L192.5 319.7 L192.6 320.4 L192.7 321.4 L192.8 322.6 L192.9 319.6 L193.0 321.3 L193.1 321.3 L193.2 319.5 L193.3 320.5 L193.4 321.4 L193.5 321.7 L193.6 318.0 L193.7 321.1 L193.8 319.5 L193.9 319.9 L194.0 320.4 L194.1 318.3 L194.2 322.3 L194.3 321.6 L194.4 319.2 L194.5 320.4 L194.6 319.7 L194.7 319.0 L194.8 320.5 L194.9 320.2 L195.0 321.0 L195.1 318.3 L195.2 320.2 L195.3 318.8 L195.4 321.8 L195.5 321.6 L195.6 318.5 L195.7 320.6 L195.8 319.5 L195.9 318.4 L196.0 316.0 L196.1 319.4 L196.2 320.2 L196.3 320.5 L196.4 318.1 L196.5 320.1 L196.6 319.4 L196.7 321.1 L196.8 323.7 L196.9 321.5 L197.0 321.6 L197.1 320.7 L197.2 322.2 L197.3 320.1 L197.4 322.5 L197.5 320.1 L197.6 320.0 L197.7 319.5 L197.8 319.9 L197.9 318.9 L198.0 320.5 L198.1 318.9 L198.2 315.8 L198.3 319.9 L198.4 320.2 L198.5 321.1 L198.6 319.6 L198.7 320.4 L198.8 321.4 L198.9 318.4 L199.0 320.7 L199.1 320.8 L199.2 321.3 L199.3 320.9 L199.4 320.4 L199.5 321.2 L199.6 319.2 L199.7 320.7 L199.8 318.4 L199.9 317.3 L200.0 319.3 L200.1 319.4 L200.2 318.7 L200.3 318.6 L200.4 315.3 L200.5 316.0 L200.6 317.0 L200.7 317.1 L200.8 318.4 L200.9 318.8 L201.0 320.1 L201.1 319.2 L201.2 317.7 L201.3 320.2 L201.4 319.3 L201.5 318.1 L201.6 316.7 L201.7 318.7 L201.8 318.9 L201.9 320.6 L202.0 318.9 L202.1 317.6 L202.2 318.3 L202.3 319.4 L202.4 318.9 L202.5 319.8 L202.6 316.9 L202.7 317.3 L202.8 316.9 L202.9 319.8 L203.0 320.5 L203.1 316.7 L203.2 318.1 L203.3 319.2 L203.4 317.4 L203.5 318.0 L203.6 318.5 L203.7 319.0 L203.8 318.4 L203.9 315.6 L204.0 320.4 L204.1 319.2 L204.2 319.2 L204.3 317.0 L204.4 317.3 L204.5 317.8 L204.6 318.0 L204.7 316.9 L204.8 318.5 L204.9 316.7 L205.0 318.7 L205.1 319.1 L205.2 318.2 L205.3 317.6 L205.4 316.9 L205.5 316.7 L205.6 313.6 L205.7 316.0 L205.8 314.9 L205.9 315.2 L206.0 315.6 L206.1 316.2 L206.2 314.6 L206.3 316.4 L206.4 313.6 L206.5 313.4 L206.6 312.7 L206.7 317.1 L206.8 315.5 L206.9 315.4 L207.0 313.9 L207.1 314.1 L207.2 315.3 L207.3 312.3 L207.4 316.4 L207.5 317.1 L207.6 316.7 L207.7 315.8 L207.8 317.0 L207.9 315.4 L208.0 315.0 L208.1 314.3 L208.2 316.5 L208.3 313.2 L208.4 312.3 L208.5 316.8 L208.6 311.4 L208.7 312.5 L208.8 311.5 L208.9 311.6 L209.0 312.3 L209.1 313.0 L209.2 312.2 L209.3 314.3 L209.4 313.2 L209.5 313.1 L209.6 314.8 L209.7 316.4 L209.8 316.6 L209.9 314.8 L210.0 316.1 L210.1 314.2 L210.2 313.5 L210.3 316.4 L210.4 312.4 L210.5 313.5 L210.6 313.0 L210.7 315.5 L210.8 311.9 L210.9 312.1 L211.0 314.1 L211.1 313.5 L211.2 314.6 L211.3 314.6 L211.4 314.7 L211.5 313.8 L211.6 314.8 L211.7 313.1 L211.8 314.5 L211.9 314.6 L212.0 312.3 L212.1 312.3 L212.2 308.9 L212.3 311.2 L212.4 311.9 L212.5 311.5 L212.6 310.2 L212.7 312.9 L212.8 312.2 L212.9 312.2 L213.0 307.2 L213.1 310.0 L213.2 308.3 L213.3 313.1 L213.4 310.0 L213.5 311.0 L213.6 308.4 L213.7 310.7 L213.8 310.0 L213.9 308.1 L214.0 307.6 L214.1 310.2 L214.2 311.9 L214.3 312.0 L214.4 308.5 L214.5 312.3 L214.6 309.4 L214.7 312.8 L214.8 314.1 L214.9 314.0 L215.0 312.3 L215.1 311.7 L215.2 311.2 L215.3 310.8 L215.4 312.5 L215.5 311.2 L215.6 310.5 L215.7 310.3 L215.8 311.8 L215.9 312.3 L216.0 312.2 L216.1 313.7 L216.2 312.7 L216.3 314.7 L216.4 312.0 L216.5 311.4 L216.6 312.3 L216.7 315.7 L216.8 312.2 L216.9 311.0 L217.0 313.6 L217.1 311.9 L217.2 312.3 L217.3 307.7 L217.4 310.5 L217.5 311.8 L217.6 310.5 L217.7 312.3 L217.8 310.4 L217.9 311.3 L218.0 311.1 L218.1 311.1 L218.2 310.8 L218.3 314.7 L218.4 310.8 L218.5 315.2 L218.6 311.7 L218.7 309.0 L218.8 310.1 L218.9 310.2 L219.0 310.2 L219.1 308.6 L219.2 309.4 L219.3 311.9 L219.4 309.0 L219.5 310.1 L219.6 313.4 L219.7 310.6 L219.8 309.9 L219.9 310.4 L220.0 308.1 L220.1 307.8 L220.2 309.8 L220.3 310.8 L220.4 310.8 L220.5 314.3 L220.6 309.2 L220.7 311.5 L220.8 311.9 L220.9 312.9 L221.0 313.7 L221.1 311.3 L221.2 312.6 L221.3 312.4 L221.4 311.6 L221.5 312.5 L221.6 310.0 L221.7 312.0 L221.8 310.9 L221.9 309.9 L222.0 310.1 L222.1 310.6 L222.2 311.4 L222.3 311.0 L222.4 313.6 L222.5 310.4 L222.6 310.7 L222.7 311.6 L222.8 311.1 L222.9 312.8 L223.0 310.8 L223.1 313.4 L223.2 310.3 L223.3 313.3 L223.4 311.6 L223.5 314.1 L223.6 312.6 L223.7 311.7 L223.8 310.8 L223.9 311.7 L224.0 310.6 L224.1 310.6 L224.2 311.1 L224.3 309.0 L224.4 309.0 L224.5 309.0 L224.6 306.9 L224.7 307.1 L224.8 305.0 L224.9 306.0 L225.0 306.4 L225.1 307.6 L225.2 308.0 L225.3 308.3 L225.4 305.5 L225.5 307.6 L225.6 312.1 L225.7 310.1 L225.8 308.3 L225.9 309.0 L226.0 304.8 L226.1 307.6 L226.2 308.9 L226.3 308.6 L226.4 308.3 L226.5 307.0 L226.6 308.1 L226.7 308.2 L226.8 310.3 L226.9 308.1 L227.0 306.6 L227.1 305.3 L227.2 307.0 L227.3 306.7 L227.4 309.1 L227.5 305.6 L227.6 306.0 L227.7 307.2 L227.8 306.5 L227.9 307.1 L228.0 306.4 L228.1 303.3 L228.2 305.2 L228.3 307.5 L228.4 302.6 L228.5 302.6 L228.6 304.6 L228.7 304.0 L228.8 304.7 L228.9 303.4 L229.0 305.3 L229.1 302.9 L229.2 300.3 L229.3 304.8 L229.4 300.7 L229.5 299.9 L229.6 302.9 L229.7 303.1 L229.8 300.0 L229.9 301.6 L230.0 301.9 L230.1 300.7 L230.2 302.9 L230.3 306.1 L230.4 304.0 L230.5 303.2 L230.6 306.5 L230.7 303.9 L230.8 300.8 L230.9 303.8 L231.0 301.5 L231.1 299.2 L231.2 299.0 L231.3 300.6 L231.4 299.6 L231.5 303.3 L231.6 302.8 L231.7 303.7 L231.8 302.5 L231.9 300.8 L232.0 301.1 L232.1 302.9 L232.2 306.3 L232.3 302.0 L232.4 303.3 L232.5 301.9 L232.6 299.1 L232.7 297.3 L232.8 300.8 L232.9 300.6 L233.0 297.0 L233.1 296.8 L233.2 302.5 L233.3 300.5 L233.4 296.1 L233.5 297.9 L233.6 299.1 L233.7 298.6 L233.8 300.6 L233.9 300.7 L234.0 300.5 L234.1 302.4 L234.2 303.1 L234.3 300.1 L234.4 300.7 L234.5 299.9 L234.6 300.5 L234.7 300.8 L234.8 297.4 L234.9 299.7 L235.0 303.0 L235.1 302.1 L235.2 300.7 L235.3 300.7 L235.4 301.4 L235.5 298.7 L235.6 301.1 L235.7 301.1 L235.8 299.2 L235.9 297.2 L236.0 297.0 L236.1 298.8 L236.2 296.9 L236.3 296.0 L236.4 299.6 L236.5 298.3 L236.6 297.5 L236.7 295.9 L236.8 297.4 L236.9 298.0 L237.0 298.9 L237.1 295.5 L237.2 296.2 L237.3 297.8 L237.4 296.2 L237.5 294.5 L237.6 294.0 L237.7 293.7 L237.8 297.2 L237.9 296.3 L238.0 295.9 L238.1 296.2 L238.2 293.8 L238.3 297.2 L238.4 298.8 L238.5 296.5 L238.6 295.1 L238.7 298.1 L238.8 295.0 L238.9 295.4 L239.0 295.7 L239.1 295.0 L239.2 298.3 L239.3 298.6 L239.4 300.3 L239.5 295.3 L239.6 296.3 L239.7 296.5 L239.8 294.9 L239.9 299.9 L240.0 293.8 L240.1 294.7 L240.2 296.2 L240.3 299.2 L240.4 298.4 L240.5 297.0 L240.6 299.4 L240.7 300.3 L240.8 298.7 L240.9 296.5 L241.0 296.3 L241.1 300.4 L241.2 297.1 L241.3 296.9 L241.4 295.1 L241.5 298.4 L241.6 298.8 L241.7 297.3 L241.8 299.3 L241.9 297.1 L242.0 298.3 L242.1 297.6 L242.2 296.2 L242.3 298.2 L242.4 293.5 L242.5 293.5 L242.6 296.1 L242.7 295.0 L242.8 296.8 L242.9 297.1 L243.0 297.6 L243.1 296.4 L243.2 298.1 L243.3 297.4 L243.4 300.2 L243.5 294.7 L243.6 299.9 L243.7 302.1 L243.8 302.5 L243.9 305.3 L244.0 303.9 L244.1 302.7 L244.2 304.1 L244.3 301.7 L244.4 301.4 L244.5 301.9 L244.6 306.2 L244.7 304.7 L244.8 303.9 L244.9 303.7 L245.0 304.6 L245.1 306.1 L245.2 305.4 L245.3 302.5 L245.4 302.4 L245.5 303.1 L245.6 301.8 L245.7 299.8 L245.8 301.6 L245.9 301.2 L246.0 299.6 L246.1 304.7 L246.2 300.7 L246.3 302.4 L246.4 302.5 L246.5 305.2 L246.6 301.8 L246.7 306.0 L246.8 301.7 L246.9 301.9 L247.0 302.5 L247.1 305.8 L247.2 303.0 L247.3 302.2 L247.4 302.3 L247.5 302.5 L247.6 303.3 L247.7 302.4 L247.8 303.7 L247.9 302.4 L248.0 301.2 L248.1 303.8 L248.2 301.7 L248.3 304.6 L248.4 301.5 L248.5 300.3 L248.6 299.7 L248.7 302.1 L248.8 298.8 L248.9 301.0 L249.0 300.2 L249.1 299.0 L249.2 300.4 L249.3 301.0 L249.4 302.1 L249.5 300.7 L249.6 300.4 L249.7 296.4 L249.8 296.2 L249.9 297.4 L250.0 296.4 L250.1 298.8 L250.2 296.9 L250.3 294.5 L250.4 297.7 L250.5 302.5 L250.6 297.9 L250.7 295.5 L250.8 298.4 L250.9 296.8 L251.0 297.3 L251.1 293.9 L251.2 295.0 L251.3 296.3 L251.4 294.7 L251.5 293.5 L251.6 297.7 L251.7 294.6 L251.8 297.7 L251.9 296.4 L252.0 297.4 L252.1 296.8 L252.2 296.1 L252.3 296.6 L252.4 291.8 L252.5 291.6 L252.6 295.8 L252.7 297.3 L252.8 299.9 L252.9 293.7 L253.0 292.6 L253.1 296.4 L253.2 295.2 L253.3 295.9 L253.4 296.7 L253.5 296.0 L253.6 296.0 L253.7 295.3 L253.8 296.2 L253.9 295.4 L254.0 297.5 L254.1 296.1 L254.2 294.9 L254.3 296.5 L254.4 297.0 L254.5 296.1 L254.6 295.5 L254.7 297.2 L254.8 293.9 L254.9 295.8 L255.0 295.1 L255.1 294.1 L255.2 291.8 L255.3 292.0 L255.4 289.9 L255.5 292.7 L255.6 289.6 L255.7 290.9 L255.8 296.6 L255.9 292.3 L256.0 294.4 L256.1 294.1 L256.2 292.7 L256.3 291.2 L256.4 296.0 L256.5 293.3 L256.6 293.2 L256.7 295.4 L256.8 294.9 L256.9 293.3 L257.0 292.3 L257.1 291.5 L257.2 291.8 L257.3 294.4 L257.4 293.9 L257.5 294.2 L257.6 295.0 L257.7 297.6 L257.8 294.6 L257.9 291.6 L258.0 293.9 L258.1 293.5 L258.2 292.6 L258.3 294.3 L258.4 291.0 L258.5 294.6 L258.6 290.1 L258.7 292.8 L258.8 292.3 L258.9 292.2 L259.0 289.9 L259.1 287.9 L259.2 291.2 L259.3 291.3 L259.4 290.8 L259.5 291.8 L259.6 294.6 L259.7 293.2 L259.8 293.9 L259.9 294.1 L260.0 293.5 L260.1 293.2 L260.2 290.7 L260.3 291.1 L260.4 291.4 L260.5 290.7 L260.6 289.5 L260.7 292.6 L260.8 290.8 L260.9 292.0 L261.0 291.5 L261.1 292.8 L261.2 295.2 L261.3 291.7 L261.4 291.1 L261.5 295.3 L261.6 292.7 L261.7 294.3 L261.8 295.3 L261.9 297.0 L262.0 295.2 L262.1 297.8 L262.2 295.1 L262.3 292.4 L262.4 292.9 L262.5 292.4 L262.6 293.3 L262.7 294.0 L262.8 292.6 L262.9 293.0 L263.0 293.6 L263.1 292.0 L263.2 292.5 L263.3 294.3 L263.4 296.8 L263.5 295.3 L263.6 294.4 L263.7 298.2 L263.8 295.2 L263.9 293.2 L264.0 297.3 L264.1 293.7 L264.2 294.3 L264.3 292.8 L264.4 293.3 L264.5 298.9 L264.6 295.5 L264.7 295.6 L264.8 295.9 L264.9 293.4 L265.0 297.3 L265.1 293.6 L265.2 292.2 L265.3 298.1 L265.4 295.9 L265.5 292.7 L265.6 295.7 L265.7 297.3 L265.8 295.2 L265.9 293.1 L266.0 291.8 L266.1 289.7 L266.2 289.8 L266.3 291.9 L266.4 290.6 L266.5 287.1 L266.6 286.0 L266.7 291.0 L266.8 291.4 L266.9 288.7 L267.0 286.7 L267.1 286.0 L267.2 290.0 L267.3 290.4 L267.4 287.1 L267.5 287.1 L267.6 288.6 L267.7 287.7 L267.8 291.0 L267.9 289.2 L268.0 288.5 L268.1 289.0 L268.2 290.1 L268.3 291.0 L268.4 291.4 L268.5 288.5 L268.6 289.7 L268.7 291.2 L268.8 285.9 L268.9 286.9 L269.0 282.1 L269.1 284.5 L269.2 284.5 L269.3 285.4 L269.4 284.4 L269.5 286.7 L269.6 286.1 L269.7 284.8 L269.8 283.4 L269.9 286.9 L270.0 287.5 L270.1 285.5 L270.2 287.4 L270.3 286.1 L270.4 284.1 L270.5 287.5 L270.6 284.6 L270.7 282.6 L270.8 284.2 L270.9 285.2 L271.0 287.9 L271.1 284.8 L271.2 283.0 L271.3 283.9 L271.4 283.8 L271.5 283.4 L271.6 284.3 L271.7 282.5 L271.8 286.7 L271.9 284.6 L272.0 285.8 L272.1 284.9 L272.2 287.0 L272.3 286.8 L272.4 286.2 L272.5 289.7 L272.6 285.8 L272.7 285.7 L272.8 282.9 L272.9 286.6 L273.0 288.6 L273.1 288.4 L273.2 286.0 L273.3 285.7 L273.4 286.1 L273.5 287.9 L273.6 290.9 L273.7 289.5 L273.8 292.1 L273.9 285.0 L274.0 288.0 L274.1 289.9 L274.2 286.2 L274.3 288.4 L274.4 291.9 L274.5 288.9 L274.6 290.8 L274.7 290.4 L274.8 288.9 L274.9 287.7 L275.0 290.3 L275.1 290.9 L275.2 289.5 L275.3 285.7 L275.4 287.7 L275.5 285.8 L275.6 286.1 L275.7 286.7 L275.8 287.2 L275.9 285.9 L276.0 290.0 L276.1 286.1 L276.2 287.8 L276.3 289.3 L276.4 287.3 L276.5 286.4 L276.6 287.3 L276.7 287.2 L276.8 286.0 L276.9 285.1 L277.0 289.3 L277.1 289.5 L277.2 288.5 L277.3 284.7 L277.4 286.3 L277.5 287.8 L277.6 287.5 L277.7 285.9 L277.8 287.6 L277.9 283.7 L278.0 286.5 L278.1 285.2 L278.2 282.1 L278.3 286.0 L278.4 288.6 L278.5 284.8 L278.6 285.5 L278.7 284.5 L278.8 281.2 L278.9 282.9 L279.0 283.1 L279.1 280.3 L279.2 282.5 L279.3 284.2 L279.4 281.5 L279.5 283.6 L279.6 282.7 L279.7 283.2 L279.8 282.0 L279.9 280.2 L280.0 283.0 L280.1 278.9 L280.2 281.8 L280.3 283.1 L280.4 283.6 L280.5 278.8 L280.6 282.3 L280.7 279.9 L280.8 281.8 L280.9 280.6 L281.0 281.1 L281.1 279.6 L281.2 281.9 L281.3 280.1 L281.4 281.4 L281.5 280.8 L281.6 278.9 L281.7 282.1 L281.8 283.9 L281.9 284.7 L282.0 284.8 L282.1 286.8 L282.2 287.4 L282.3 286.5 L282.4 285.3 L282.5 283.1 L282.6 289.4 L282.7 283.6 L282.8 283.1 L282.9 285.8 L283.0 286.1 L283.1 282.5 L283.2 283.1 L283.3 288.5 L283.4 286.6 L283.5 285.3 L283.6 282.3 L283.7 284.0 L283.8 285.9 L283.9 288.1 L284.0 286.2 L284.1 285.2 L284.2 287.2 L284.3 289.3 L284.4 285.9 L284.5 289.1 L284.6 293.9 L284.7 288.8 L284.8 289.9 L284.9 290.3 L285.0 288.0 L285.1 290.3 L285.2 294.1 L285.3 293.6 L285.4 288.0 L285.5 295.0 L285.6 291.0 L285.7 293.4 L285.8 295.0 L285.9 295.0 L286.0 294.1 L286.1 291.5 L286.2 288.6 L286.3 287.0 L286.4 286.2 L286.5 289.3 L286.6 291.6 L286.7 289.2 L286.8 289.9 L286.9 292.6 L287.0 289.4 L287.1 288.0 L287.2 287.4 L287.3 290.2 L287.4 289.2 L287.5 285.2 L287.6 288.8 L287.7 291.0 L287.8 287.5 L287.9 286.6 L288.0 287.3 L288.1 286.4 L288.2 287.7 L288.3 285.5 L288.4 289.2 L288.5 287.1 L288.6 284.0 L288.7 286.8 L288.8 287.5 L288.9 285.4 L289.0 286.6 L289.1 288.1 L289.2 287.4 L289.3 288.0 L289.4 284.6 L289.5 289.1 L289.6 286.6 L289.7 288.6 L289.8 286.0 L289.9 286.9 L290.0 284.1 L290.1 286.7 L290.2 284.3 L290.3 281.6 L290.4 282.3 L290.5 283.9 L290.6 281.3 L290.7 284.4 L290.8 282.4 L290.9 279.8 L291.0 280.2 L291.1 280.1 L291.2 278.8 L291.3 282.8 L291.4 283.5 L291.5 281.6 L291.6 284.2 L291.7 280.7 L291.8 283.8 L291.9 279.9 L292.0 279.9 L292.1 282.4 L292.2 286.9 L292.3 285.7 L292.4 285.6 L292.5 285.7 L292.6 282.6 L292.7 283.5 L292.8 281.8 L292.9 280.7 L293.0 284.4 L293.1 281.3 L293.2 283.3 L293.3 284.6 L293.4 284.5 L293.5 284.5 L293.6 286.1 L293.7 280.7 L293.8 280.1 L293.9 282.3 L294.0 284.7 L294.1 283.8 L294.2 283.8 L294.3 283.4 L294.4 286.5 L294.5 289.7 L294.6 287.8 L294.7 285.2 L294.8 288.0 L294.9 285.7 L295.0 283.1 L295.1 282.3 L295.2 288.6 L295.3 288.8 L295.4 288.1 L295.5 283.5 L295.6 287.7 L295.7 283.9 L295.8 286.2 L295.9 287.3 L296.0 286.4 L296.1 285.5 L296.2 286.9 L296.3 288.5 L296.4 285.6 L296.5 288.9 L296.6 282.9 L296.7 289.5 L296.8 287.5 L296.9 288.9 L297.0 287.6 L297.1 288.8 L297.2 288.9 L297.3 289.6 L297.4 292.1 L297.5 289.7 L297.6 286.2 L297.7 284.4 L297.8 287.1 L297.9 286.4 L298.0 287.3 L298.1 287.9 L298.2 285.5 L298.3 287.4 L298.4 290.5 L298.5 288.7 L298.6 290.0 L298.7 290.6 L298.8 292.4 L298.9 290.7 L299.0 291.2 L299.1 292.4 L299.2 289.4 L299.3 291.7 L299.4 293.3 L299.5 290.1 L299.6 290.7 L299.7 291.5 L299.8 293.5 L299.9 291.6 L300.0 294.7 L300.1 294.4 L300.2 294.3 L300.3 294.9 L300.4 295.4 L300.5 292.3 L300.6 293.5 L300.7 296.3 L300.8 295.4 L300.9 294.9 L301.0 297.0 L301.1 298.4 L301.2 294.6 L301.3 294.4 L301.4 294.9 L301.5 295.6 L301.6 296.3 L301.7 294.7 L301.8 298.3 L301.9 298.0 L302.0 299.7 L302.1 296.9 L302.2 303.0 L302.3 297.5 L302.4 296.8 L302.5 297.8 L302.6 296.0 L302.7 299.3 L302.8 297.9 L302.9 303.0 L303.0 299.7 L303.1 301.4 L303.2 300.9 L303.3 305.6 L303.4 307.1 L303.5 302.5 L303.6 306.0 L303.7 307.2 L303.8 308.6 L303.9 304.4 L304.0 304.1 L304.1 303.8 L304.2 303.4 L304.3 301.9 L304.4 300.9 L304.5 302.6 L304.6 301.2 L304.7 298.9 L304.8 300.5 L304.9 296.4 L305.0 300.6 L305.1 299.2 L305.2 299.9 L305.3 297.6 L305.4 299.0 L305.5 298.4 L305.6 297.5 L305.7 299.5 L305.8 300.8 L305.9 301.1 L306.0 301.6 L306.1 295.7 L306.2 300.6 L306.3 298.5 L306.4 295.8 L306.5 300.2 L306.6 297.8 L306.7 299.8 L306.8 297.7 L306.9 300.6 L307.0 300.7 L307.1 301.1 L307.2 299.5 L307.3 301.3 L307.4 300.3 L307.5 296.3 L307.6 297.9 L307.7 298.1 L307.8 296.4 L307.9 302.6 L308.0 295.8 L308.1 299.6 L308.2 297.1 L308.3 301.3 L308.4 297.4 L308.5 297.5 L308.6 296.8 L308.7 300.4 L308.8 303.4 L308.9 297.6 L309.0 300.9 L309.1 303.2 L309.2 301.5 L309.3 303.7 L309.4 302.2 L309.5 304.2 L309.6 302.8 L309.7 302.2 L309.8 299.3 L309.9 301.5 L310.0 305.2 L310.1 304.5 L310.2 303.5 L310.3 302.4 L310.4 303.7 L310.5 302.4 L310.6 302.9 L310.7 302.6 L310.8 304.1 L310.9 304.2 L311.0 303.3 L311.1 304.8 L311.2 304.0 L311.3 303.0 L311.4 304.0 L311.5 303.1 L311.6 307.3 L311.7 303.2 L311.8 301.4 L311.9 302.5 L312.0 300.2 L312.1 300.3 L312.2 299.7 L312.3 299.0 L312.4 303.4 L312.5 300.7 L312.6 297.5 L312.7 300.6 L312.8 299.5 L312.9 299.4 L313.0 298.7 L313.1 303.9 L313.2 304.8 L313.3 300.7 L313.4 301.0 L313.5 299.4 L313.6 296.1 L313.7 301.1 L313.8 302.0 L313.9 300.4 L314.0 295.3 L314.1 296.4 L314.2 296.0 L314.3 292.1 L314.4 293.1 L314.5 295.4 L314.6 290.8 L314.7 296.7 L314.8 294.5 L314.9 293.1 L315.0 291.6 L315.1 292.8 L315.2 293.1 L315.3 292.2 L315.4 291.4 L315.5 293.7 L315.6 289.8 L315.7 291.7 L315.8 292.5 L315.9 292.3 L316.0 294.7 L316.1 296.7 L316.2 295.8 L316.3 296.5 L316.4 294.9 L316.5 294.6 L316.6 291.1 L316.7 294.0 L316.8 293.6 L316.9 295.3 L317.0 293.1 L317.1 292.9 L317.2 293.4 L317.3 291.2 L317.4 291.8 L317.5 290.8 L317.6 292.3 L317.7 293.3 L317.8 289.4 L317.9 292.4 L318.0 291.1 L318.1 289.0 L318.2 290.6 L318.3 292.6 L318.4 291.3 L318.5 291.4 L318.6 292.1 L318.7 289.8 L318.8 288.0 L318.9 291.1 L319.0 289.6 L319.1 287.6 L319.2 290.3 L319.3 286.4 L319.4 291.1 L319.5 291.1 L319.6 289.7 L319.7 290.5 L319.8 289.2 L319.9 291.4 L320.0 285.5 L320.1 287.4 L320.2 286.6 L320.3 289.2 L320.4 285.9 L320.5 287.4 L320.6 285.7 L320.7 287.6 L320.8 289.0 L320.9 286.6 L321.0 289.9 L321.1 289.5 L321.2 289.4 L321.3 288.2 L321.4 288.0 L321.5 288.4 L321.6 286.6 L321.7 286.7 L321.8 287.9 L321.9 288.4 L322.0 287.2 L322.1 286.4 L322.2 287.2 L322.3 290.1 L322.4 288.7 L322.5 286.5 L322.6 286.5 L322.7 288.7 L322.8 287.4 L322.9 286.5 L323.0 289.6 L323.1 289.6 L323.2 290.6 L323.3 286.6 L323.4 286.8 L323.5 285.5 L323.6 283.9 L323.7 280.1 L323.8 285.5 L323.9 285.7 L324.0 285.5 L324.1 285.1 L324.2 282.4 L324.3 285.0 L324.4 287.0 L324.5 280.4 L324.6 286.0 L324.7 281.2 L324.8 283.6 L324.9 283.6 L325.0 287.1 L325.1 279.8 L325.2 284.4 L325.3 280.4 L325.4 281.8 L325.5 283.4 L325.6 277.7 L325.7 279.6 L325.8 279.3 L325.9 276.8 L326.0 277.3 L326.1 280.4 L326.2 279.8 L326.3 279.0 L326.4 280.3 L326.5 279.1 L326.6 278.0 L326.7 280.8 L326.8 282.7 L326.9 280.7 L327.0 279.1 L327.1 277.0 L327.2 277.9 L327.3 275.8 L327.4 279.4 L327.5 278.5 L327.6 280.4 L327.7 282.8 L327.8 281.8 L327.9 280.5 L328.0 279.8 L328.1 277.2 L328.2 276.5 L328.3 282.3 L328.4 281.7 L328.5 275.5 L328.6 278.7 L328.7 272.5 L328.8 279.0 L328.9 279.2 L329.0 281.0 L329.1 282.6 L329.2 278.3 L329.3 278.9 L329.4 275.8 L329.5 276.3 L329.6 275.1 L329.7 278.2 L329.8 276.1 L329.9 273.6 L330.0 279.4 L330.1 279.2 L330.2 276.7 L330.3 275.3 L330.4 277.3 L330.5 279.1 L330.6 278.3 L330.7 272.9 L330.8 273.5 L330.9 274.3 L331.0 278.2 L331.1 278.0 L331.2 280.0 L331.3 274.4 L331.4 274.8 L331.5 276.6 L331.6 275.9 L331.7 274.5 L331.8 277.4 L331.9 277.6 L332.0 272.2 L332.1 274.4 L332.2 271.8 L332.3 273.5 L332.4 273.8 L332.5 274.5 L332.6 274.5 L332.7 276.4 L332.8 273.1 L332.9 268.9 L333.0 276.7 L333.1 281.7 L333.2 280.0 L333.3 280.4 L333.4 280.3 L333.5 281.1 L333.6 279.2 L333.7 281.2 L333.8 280.1 L333.9 281.3 L334.0 276.8 L334.1 277.6 L334.2 279.4 L334.3 278.4 L334.4 278.9 L334.5 282.0 L334.6 273.7 L334.7 279.0 L334.8 277.6 L334.9 273.9 L335.0 281.1 L335.1 282.2 L335.2 277.4 L335.3 276.0 L335.4 280.4 L335.5 275.6 L335.6 277.8 L335.7 280.6 L335.8 280.7 L335.9 281.6 L336.0 279.7 L336.1 281.7 L336.2 280.2 L336.3 281.3 L336.4 281.8 L336.5 278.3 L336.6 281.1 L336.7 281.8 L336.8 280.7 L336.9 277.1 L337.0 277.2 L337.1 280.6 L337.2 281.3 L337.3 281.3 L337.4 278.7 L337.5 282.4 L337.6 277.2 L337.7 278.7 L337.8 279.1 L337.9 277.2 L338.0 278.3 L338.1 277.0 L338.2 278.6 L338.3 276.0 L338.4 279.2 L338.5 276.0 L338.6 280.4 L338.7 278.1 L338.8 278.1 L338.9 276.0 L339.0 278.4 L339.1 275.9 L339.2 275.9 L339.3 278.6 L339.4 280.7 L339.5 277.2 L339.6 278.3 L339.7 277.2 L339.8 273.8 L339.9 276.6 L340.0 275.8 L340.1 277.1 L340.2 276.7 L340.3 276.3 L340.4 276.8 L340.5 279.4 L340.6 277.2 L340.7 282.8 L340.8 278.4 L340.9 282.0 L341.0 283.8 L341.1 282.2 L341.2 281.8 L341.3 283.1 L341.4 283.6 L341.5 284.1 L341.6 284.1 L341.7 285.8 L341.8 282.4 L341.9 283.7 L342.0 282.7 L342.1 281.7 L342.2 283.4 L342.3 285.7 L342.4 283.0 L342.5 283.5 L342.6 284.6 L342.7 283.3 L342.8 281.2 L342.9 279.5 L343.0 280.9 L343.1 282.7 L343.2 285.8 L343.3 284.5 L343.4 281.4 L343.5 286.2 L343.6 281.1 L343.7 284.8 L343.8 285.0 L343.9 283.4 L344.0 279.4 L344.1 284.5 L344.2 284.3 L344.3 280.4 L344.4 281.9 L344.5 284.8 L344.6 283.5 L344.7 285.5 L344.8 283.3 L344.9 284.5 L345.0 287.8 L345.1 287.1 L345.2 284.9 L345.3 281.6 L345.4 283.3 L345.5 287.6 L345.6 283.8 L345.7 282.5 L345.8 280.0 L345.9 278.0 L346.0 276.4 L346.1 280.7 L346.2 278.1 L346.3 285.3 L346.4 283.7 L346.5 285.1 L346.6 282.0 L346.7 279.1 L346.8 277.1 L346.9 276.4 L347.0 279.1 L347.1 284.7 L347.2 280.3 L347.3 281.4 L347.4 282.9 L347.5 281.5 L347.6 278.5 L347.7 281.8 L347.8 277.3 L347.9 280.8 L348.0 279.8 L348.1 281.1 L348.2 278.4 L348.3 279.9 L348.4 277.5 L348.5 275.2 L348.6 278.6 L348.7 276.8 L348.8 275.5 L348.9 273.6 L349.0 275.9 L349.1 275.3 L349.2 276.9 L349.3 277.2 L349.4 280.9 L349.5 278.8 L349.6 276.3 L349.7 274.9 L349.8 274.0 L349.9 274.3 L350.0 277.6 L350.1 277.7 L350.2 273.9 L350.3 273.5 L350.4 275.8 L350.5 271.2 L350.6 275.0 L350.7 270.0 L350.8 271.7 L350.9 268.4 L351.0 270.7 L351.1 272.0 L351.2 272.8 L351.3 272.5 L351.4 271.3 L351.5 271.4 L351.6 272.8 L351.7 273.0 L351.8 270.6 L351.9 271.7 L352.0 268.6 L352.1 268.5 L352.2 269.3 L352.3 273.2 L352.4 269.8 L352.5 272.6 L352.6 272.3 L352.7 272.1 L352.8 268.6 L352.9 269.8 L353.0 268.2 L353.1 272.4 L353.2 274.6 L353.3 270.3 L353.4 271.9 L353.5 272.9 L353.6 274.4 L353.7 271.2 L353.8 271.1 L353.9 270.6 L354.0 271.2 L354.1 269.0 L354.2 272.5 L354.3 270.4 L354.4 268.1 L354.5 270.9 L354.6 272.2 L354.7 274.0 L354.8 276.9 L354.9 276.5 L355.0 279.6 L355.1 275.5 L355.2 273.6 L355.3 278.5 L355.4 276.0 L355.5 276.1 L355.6 274.1 L355.7 274.0 L355.8 275.7 L355.9 273.5 L356.0 274.4 L356.1 273.6 L356.2 271.7 L356.3 273.9 L356.4 274.1 L356.5 274.7 L356.6 275.6 L356.7 274.1 L356.8 276.4 L356.9 275.6 L357.0 276.8 L357.1 276.1 L357.2 277.9 L357.3 276.2 L357.4 281.2 L357.5 274.8 L357.6 272.2 L357.7 278.3 L357.8 276.7 L357.9 276.6 L358.0 272.4 L358.1 274.4 L358.2 275.5 L358.3 272.1 L358.4 275.8 L358.5 276.1 L358.6 275.8 L358.7 278.0 L358.8 279.4 L358.9 278.6 L359.0 276.6 L359.1 275.6 L359.2 277.7 L359.3 274.9 L359.4 279.2 L359.5 276.4 L359.6 274.0 L359.7 276.0 L359.8 274.2 L359.9 280.0 L360.0 275.6 L360.1 279.4 L360.2 278.5 L360.3 276.2 L360.4 279.6 L360.5 275.3 L360.6 276.1 L360.7 277.8 L360.8 275.5 L360.9 277.2 L361.0 276.5 L361.1 278.4 L361.2 276.6 L361.3 278.7 L361.4 276.8 L361.5 279.0 L361.6 278.2 L361.7 277.0 L361.8 275.1 L361.9 274.1 L362.0 278.2 L362.1 277.7 L362.2 277.7 L362.3 278.6 L362.4 276.6 L362.5 276.2 L362.6 274.6 L362.7 277.1 L362.8 277.9 L362.9 278.0 L363.0 277.2 L363.1 279.6 L363.2 279.2 L363.3 278.3 L363.4 273.6 L363.5 281.9 L363.6 279.4 L363.7 280.6 L363.8 283.7 L363.9 283.0 L364.0 276.4 L364.1 274.3 L364.2 278.2 L364.3 279.4 L364.4 278.5 L364.5 278.5 L364.6 279.4 L364.7 279.3 L364.8 278.1 L364.9 279.5 L365.0 276.2 L365.1 278.0 L365.2 277.4 L365.3 280.4 L365.4 279.1 L365.5 277.2 L365.6 279.3 L365.7 278.1 L365.8 279.2 L365.9 276.0 L366.0 278.9 L366.1 278.4 L366.2 280.6 L366.3 279.2 L366.4 279.0 L366.5 277.0 L366.6 282.1 L366.7 277.6 L366.8 276.9 L366.9 277.8 L367.0 277.7 L367.1 277.7 L367.2 282.4 L367.3 282.3 L367.4 282.6 L367.5 283.4 L367.6 284.3 L367.7 282.1 L367.8 284.1 L367.9 284.6 L368.0 284.5 L368.1 285.3 L368.2 284.5 L368.3 284.3 L368.4 283.9 L368.5 284.1 L368.6 286.1 L368.7 283.6 L368.8 285.8 L368.9 285.6 L369.0 286.0 L369.1 285.0 L369.2 285.5 L369.3 284.8 L369.4 286.6 L369.5 287.7 L369.6 283.6 L369.7 283.4 L369.8 283.7 L369.9 280.3 L370.0 285.3 L370.1 287.8 L370.2 283.7 L370.3 283.2 L370.4 285.8 L370.5 286.3 L370.6 288.4 L370.7 287.1 L370.8 288.1 L370.9 286.9 L371.0 287.5 L371.1 285.3 L371.2 286.4 L371.3 289.3 L371.4 286.8 L371.5 291.1 L371.6 288.5 L371.7 288.5 L371.8 287.7 L371.9 291.4 L372.0 294.8 L372.1 295.7 L372.2 294.8 L372.3 294.2 L372.4 291.8 L372.5 291.7 L372.6 291.6 L372.7 293.0 L372.8 293.7 L372.9 293.0 L373.0 292.9 L373.1 294.7 L373.2 292.8 L373.3 291.1 L373.4 291.8 L373.5 293.0 L373.6 291.9 L373.7 291.5 L373.8 293.3 L373.9 294.8 L374.0 294.5 L374.1 293.6 L374.2 293.8 L374.3 295.6 L374.4 291.1 L374.5 293.3 L374.6 290.1 L374.7 294.2 L374.8 293.1 L374.9 295.8 L375.0 292.9 L375.1 294.9 L375.2 289.6 L375.3 288.3 L375.4 287.2 L375.5 287.5 L375.6 288.3 L375.7 288.3 L375.8 287.1 L375.9 288.2 L376.0 287.4 L376.1 288.1 L376.2 285.8 L376.3 290.1 L376.4 286.6 L376.5 289.6 L376.6 287.7 L376.7 283.1 L376.8 287.2 L376.9 289.3 L377.0 290.7 L377.1 286.3 L377.2 290.2 L377.3 290.4 L377.4 291.6 L377.5 287.8 L377.6 287.5 L377.7 285.3 L377.8 282.7 L377.9 284.6 L378.0 284.2 L378.1 283.1 L378.2 288.7 L378.3 289.3 L378.4 288.7 L378.5 288.4 L378.6 288.2 L378.7 284.5 L378.8 285.2 L378.9 284.1 L379.0 286.0 L379.1 286.1 L379.2 288.0 L379.3 283.5 L379.4 283.4 L379.5 286.1 L379.6 285.8 L379.7 287.9 L379.8 287.3 L379.9 286.6 L380.0 284.9 L380.1 286.6 L380.2 288.4 L380.3 287.7 L380.4 287.6 L380.5 285.5 L380.6 284.8 L380.7 282.3 L380.8 284.4 L380.9 283.5 L381.0 281.8 L381.1 281.0 L381.2 282.4 L381.3 280.5 L381.4 286.7 L381.5 285.8 L381.6 276.6 L381.7 280.5 L381.8 277.2 L381.9 284.1 L382.0 280.9 L382.1 282.4 L382.2 282.2 L382.3 282.5 L382.4 281.9 L382.5 279.2 L382.6 279.6 L382.7 283.2 L382.8 277.2 L382.9 282.2 L383.0 280.5 L383.1 279.7 L383.2 280.9 L383.3 281.2 L383.4 277.5 L383.5 279.8 L383.6 279.5 L383.7 279.5 L383.8 284.1 L383.9 277.1 L384.0 276.8 L384.1 273.5 L384.2 274.6 L384.3 274.1 L384.4 273.4 L384.5 273.3 L384.6 277.8 L384.7 272.8 L384.8 277.2 L384.9 276.2 L385.0 275.5 L385.1 277.4 L385.2 276.2 L385.3 274.0 L385.4 272.3 L385.5 272.7 L385.6 274.5 L385.7 276.8 L385.8 276.9 L385.9 277.4 L386.0 278.2 L386.1 277.3 L386.2 276.5 L386.3 273.7 L386.4 271.7 L386.5 276.2 L386.6 272.8 L386.7 274.0 L386.8 272.4 L386.9 275.3 L387.0 273.6 L387.1 275.4 L387.2 276.5 L387.3 273.9 L387.4 275.5 L387.5 281.4 L387.6 279.8 L387.7 281.6 L387.8 280.6 L387.9 283.5 L388.0 278.4 L388.1 285.6 L388.2 285.0 L388.3 283.3 L388.4 279.8 L388.5 281.5 L388.6 281.4 L388.7 279.2 L388.8 285.4 L388.9 282.1 L389.0 283.8 L389.1 279.3 L389.2 284.2 L389.3 287.4 L389.4 282.9 L389.5 283.4 L389.6 286.3 L389.7 289.5 L389.8 287.5 L389.9 288.9 L390.0 289.6 L390.1 284.7 L390.2 282.7 L390.3 288.7 L390.4 287.6 L390.5 286.5 L390.6 287.0 L390.7 285.8 L390.8 289.8 L390.9 288.6 L391.0 288.1 L391.1 291.0 L391.2 289.0 L391.3 290.1 L391.4 289.6 L391.5 289.3 L391.6 290.4 L391.7 291.8 L391.8 289.5 L391.9 289.2 L392.0 290.6 L392.1 290.8 L392.2 289.9 L392.3 290.9 L392.4 288.6 L392.5 287.0 L392.6 285.7 L392.7 285.2 L392.8 291.4 L392.9 289.7 L393.0 288.3 L393.1 289.3 L393.2 288.3 L393.3 284.0 L393.4 286.9 L393.5 287.0 L393.6 287.9 L393.7 288.9 L393.8 287.3 L393.9 283.8 L394.0 284.6 L394.1 286.9 L394.2 286.4 L394.3 287.3 L394.4 286.2 L394.5 288.3 L394.6 288.5 L394.7 288.9 L394.8 286.6 L394.9 285.7 L395.0 285.7 L395.1 287.1 L395.2 290.4 L395.3 288.6 L395.4 287.6 L395.5 283.9 L395.6 282.2 L395.7 286.4 L395.8 285.1 L395.9 286.3 L396.0 283.3 L396.1 284.4 L396.2 286.0 L396.3 283.1 L396.4 283.8 L396.5 285.1 L396.6 282.7 L396.7 286.8 L396.8 289.3 L396.9 285.7 L397.0 285.2 L397.1 282.9 L397.2 278.8 L397.3 281.7 L397.4 281.4 L397.5 280.8 L397.6 280.1 L397.7 278.1 L397.8 280.0 L397.9 279.3 L398.0 278.0 L398.1 278.5 L398.2 280.9 L398.3 282.0 L398.4 284.4 L398.5 281.9 L398.6 282.5 L398.7 284.7 L398.8 286.5 L398.9 281.2 L399.0 284.1 L399.1 286.0 L399.2 284.7 L399.3 284.5 L399.4 283.6 L399.5 283.9 L399.6 282.9 L399.7 283.0 L399.8 284.1 L399.9 280.4 L400.0 282.6 L400.1 281.8 L400.2 285.1 L400.3 285.8 L400.4 285.6 L400.5 283.3 L400.6 287.6 L400.7 291.7 L400.8 288.1 L400.9 289.7 L401.0 286.7 L401.1 289.5 L401.2 287.2 L401.3 288.4 L401.4 288.1 L401.5 287.5 L401.6 286.8 L401.7 284.7 L401.8 282.1 L401.9 284.1 L402.0 285.4 L402.1 283.0 L402.2 285.1 L402.3 280.5 L402.4 282.2 L402.5 283.5 L402.6 282.2 L402.7 282.9 L402.8 283.3 L402.9 284.0 L403.0 285.8 L403.1 287.6 L403.2 287.5 L403.3 284.9 L403.4 284.2 L403.5 282.0 L403.6 282.5 L403.7 287.6 L403.8 283.8 L403.9 286.8 L404.0 284.4 L404.1 281.6 L404.2 280.8 L404.3 282.4 L404.4 282.1 L404.5 279.3 L404.6 277.5 L404.7 282.4 L404.8 279.4 L404.9 280.2 L405.0 283.2 L405.1 281.4 L405.2 282.9 L405.3 278.8 L405.4 275.9 L405.5 275.3 L405.6 277.0 L405.7 277.6 L405.8 276.0 L405.9 278.3 L406.0 277.5 L406.1 282.2 L406.2 277.3 L406.3 273.1 L406.4 277.2 L406.5 277.7 L406.6 275.0 L406.7 275.4 L406.8 276.3 L406.9 275.1 L407.0 278.4 L407.1 276.2 L407.2 274.3 L407.3 277.0 L407.4 277.6 L407.5 277.6 L407.6 276.3 L407.7 279.1 L407.8 279.9 L407.9 280.6 L408.0 281.2 L408.1 278.9 L408.2 279.3 L408.3 283.0 L408.4 280.1 L408.5 282.5 L408.6 277.7 L408.7 280.7 L408.8 279.0 L408.9 275.7 L409.0 276.2 L409.1 277.4 L409.2 278.9 L409.3 278.6 L409.4 279.3 L409.5 279.7 L409.6 279.1 L409.7 278.9 L409.8 278.5 L409.9 277.8 L410.0 277.3 L410.1 278.1 L410.2 276.0 L410.3 279.1 L410.4 276.9 L410.5 277.8 L410.6 275.2 L410.7 277.2 L410.8 281.5 L410.9 277.9 L411.0 274.9 L411.1 279.3 L411.2 278.6 L411.3 275.6 L411.4 280.5 L411.5 272.3 L411.6 277.4 L411.7 276.7 L411.8 278.1 L411.9 276.0 L412.0 278.7 L412.1 278.5 L412.2 276.6 L412.3 275.4 L412.4 276.4 L412.5 271.3 L412.6 275.8 L412.7 274.1 L412.8 275.9 L412.9 272.7 L413.0 274.6 L413.1 275.7 L413.2 272.0 L413.3 273.3 L413.4 273.3 L413.5 276.0 L413.6 276.0 L413.7 277.9 L413.8 275.5 L413.9 274.1 L414.0 275.5 L414.1 275.2 L414.2 275.3 L414.3 278.1 L414.4 277.6 L414.5 277.7 L414.6 272.3 L414.7 276.7 L414.8 272.4 L414.9 274.6 L415.0 269.3 L415.1 273.7 L415.2 275.4 L415.3 274.3 L415.4 273.8 L415.5 273.6 L415.6 275.2 L415.7 275.3 L415.8 278.0 L415.9 279.6 L416.0 276.5 L416.1 279.1 L416.2 281.9 L416.3 275.9 L416.4 277.0 L416.5 281.1 L416.6 276.9 L416.7 274.4 L416.8 276.3 L416.9 273.4 L417.0 282.3 L417.1 279.1 L417.2 280.3 L417.3 277.6 L417.4 279.5 L417.5 280.0 L417.6 280.4 L417.7 280.0 L417.8 282.6 L417.9 285.2 L418.0 283.7 L418.1 285.6 L418.2 283.7 L418.3 283.9 L418.4 283.4 L418.5 281.4 L418.6 279.4 L418.7 278.6 L418.8 281.1 L418.9 281.4 L419.0 283.2 L419.1 284.5 L419.2 284.3 L419.3 282.5 L419.4 285.5 L419.5 284.4 L419.6 286.1 L419.7 283.2 L419.8 281.3 L419.9 282.9 L420.0 282.0 L420.1 281.0 L420.2 285.0 L420.3 281.6 L420.4 282.1 L420.5 281.1 L420.6 275.8 L420.7 276.0 L420.8 275.9 L420.9 275.7 L421.0 275.5 L421.1 277.6 L421.2 279.0 L421.3 279.3 L421.4 280.8 L421.5 282.1 L421.6 283.1 L421.7 278.6 L421.8 276.7 L421.9 278.2 L422.0 281.2 L422.1 278.9 L422.2 274.0 L422.3 274.2 L422.4 281.1 L422.5 275.9 L422.6 273.3 L422.7 279.0 L422.8 276.3 L422.9 276.7 L423.0 271.9 L423.1 274.5 L423.2 274.2 L423.3 274.7 L423.4 272.1 L423.5 276.0 L423.6 274.7 L423.7 271.9 L423.8 274.2 L423.9 271.8 L424.0 276.3 L424.1 274.0 L424.2 272.9 L424.3 273.7 L424.4 276.3 L424.5 271.6 L424.6 271.6 L424.7 274.8 L424.8 270.2 L424.9 274.9 L425.0 267.9 L425.1 275.9 L425.2 273.9 L425.3 273.2 L425.4 274.8 L425.5 275.1 L425.6 273.3 L425.7 277.0 L425.8 273.7 L425.9 275.7 L426.0 273.7 L426.1 272.8 L426.2 271.7 L426.3 271.0 L426.4 274.1 L426.5 274.2 L426.6 276.2 L426.7 275.5 L426.8 274.7 L426.9 272.0 L427.0 274.1 L427.1 275.0 L427.2 271.6 L427.3 274.4 L427.4 273.6 L427.5 268.1 L427.6 274.2 L427.7 275.6 L427.8 273.3 L427.9 272.2 L428.0 272.5 L428.1 270.8 L428.2 270.5 L428.3 272.7 L428.4 273.0 L428.5 277.1 L428.6 276.6 L428.7 272.4 L428.8 272.2 L428.9 271.7 L429.0 271.8 L429.1 273.9 L429.2 273.8 L429.3 273.4 L429.4 275.4 L429.5 276.1 L429.6 273.0 L429.7 276.6 L429.8 276.9 L429.9 277.6 L430.0 276.7 L430.1 279.3 L430.2 279.4 L430.3 280.5 L430.4 276.4 L430.5 274.1 L430.6 273.9 L430.7 275.1 L430.8 275.0 L430.9 279.0 L431.0 279.3 L431.1 275.5 L431.2 277.5 L431.3 281.6 L431.4 279.2 L431.5 274.8 L431.6 272.8 L431.7 277.7 L431.8 276.7 L431.9 275.9 L432.0 276.9 L432.1 279.1 L432.2 277.0 L432.3 280.0 L432.4 278.8 L432.5 277.9 L432.6 278.3 L432.7 278.8 L432.8 279.6 L432.9 281.3 L433.0 278.2 L433.1 279.4 L433.2 276.9 L433.3 278.4 L433.4 282.4 L433.5 279.5 L433.6 279.1 L433.7 279.8 L433.8 279.5 L433.9 279.4 L434.0 278.3 L434.1 280.6 L434.2 279.1 L434.3 280.0 L434.4 280.8 L434.5 279.1 L434.6 280.4 L434.7 283.5 L434.8 282.1 L434.9 278.6 L435.0 276.6 L435.1 277.7 L435.2 278.4 L435.3 279.1 L435.4 273.8 L435.5 272.0 L435.6 270.5 L435.7 274.3 L435.8 275.1 L435.9 271.1 L436.0 276.5 L436.1 273.7 L436.2 274.2 L436.3 273.9 L436.4 274.2 L436.5 277.4 L436.6 275.9 L436.7 275.9 L436.8 272.3 L436.9 273.7 L437.0 271.3 L437.1 268.4 L437.2 269.1 L437.3 271.1 L437.4 271.2 L437.5 269.5 L437.6 271.2 L437.7 274.5 L437.8 271.0 L437.9 270.1 L438.0 266.3 L438.1 270.0 L438.2 268.7 L438.3 271.4 L438.4 264.7 L438.5 264.9 L438.6 266.7 L438.7 265.4 L438.8 268.4 L438.9 269.5 L439.0 268.5 L439.1 265.5 L439.2 265.3 L439.3 265.5 L439.4 265.8 L439.5 264.2 L439.6 267.8 L439.7 266.8 L439.8 270.9 L439.9 265.5 L440.0 265.1 L440.1 269.5 L440.2 269.0 L440.3 270.7 L440.4 267.5 L440.5 266.5 L440.6 263.5 L440.7 265.1 L440.8 264.7 L440.9 266.7 L441.0 267.8 L441.1 264.8 L441.2 266.5 L441.3 267.7 L441.4 265.0 L441.5 263.6 L441.6 263.3 L441.7 262.8 L441.8 261.3 L441.9 268.3 L442.0 264.2 L442.1 263.2 L442.2 266.1 L442.3 266.7 L442.4 265.3 L442.5 262.9 L442.6 263.0 L442.7 263.6 L442.8 264.5 L442.9 267.2 L443.0 260.2 L443.1 262.2 L443.2 262.5 L443.3 265.0 L443.4 266.0 L443.5 264.0 L443.6 261.1 L443.7 260.5 L443.8 257.6 L443.9 262.1 L444.0 258.3 L444.1 257.0 L444.2 258.6 L444.3 261.4 L444.4 257.5 L444.5 257.8 L444.6 261.4 L444.7 260.3 L444.8 261.6 L444.9 259.9 L445.0 260.8 L445.1 262.3 L445.2 260.3 L445.3 258.6 L445.4 259.3 L445.5 255.9 L445.6 255.8 L445.7 258.1 L445.8 261.4 L445.9 258.4 L446.0 254.0 L446.1 260.9 L446.2 252.6 L446.3 252.8 L446.4 251.6 L446.5 252.7 L446.6 249.8 L446.7 251.5 L446.8 253.5 L446.9 254.3 L447.0 254.1 L447.1 251.0 L447.2 247.3 L447.3 249.1 L447.4 248.7 L447.5 247.2 L447.6 246.3 L447.7 251.5 L447.8 248.5 L447.9 251.4 L448.0 253.3 L448.1 247.4 L448.2 250.4 L448.3 253.4 L448.4 252.7 L448.5 253.3 L448.6 255.7 L448.7 251.6 L448.8 258.4 L448.9 252.5 L449.0 256.7 L449.1 254.3 L449.2 257.0 L449.3 258.5 L449.4 259.7 L449.5 255.9 L449.6 261.6 L449.7 262.7 L449.8 260.8 L449.9 261.5 L450.0 263.0 L450.1 257.8 L450.2 264.0 L450.3 257.6 L450.4 258.7 L450.5 258.7 L450.6 256.5 L450.7 255.8 L450.8 258.1 L450.9 260.8 L451.0 259.4 L451.1 261.5 L451.2 256.3 L451.3 258.1 L451.4 256.5 L451.5 256.9 L451.6 259.6 L451.7 260.6 L451.8 256.6 L451.9 255.6 L452.0 254.5 L452.1 257.3 L452.2 254.5 L452.3 257.8 L452.4 257.5 L452.5 254.7 L452.6 256.9 L452.7 254.0 L452.8 253.4 L452.9 258.4 L453.0 257.0 L453.1 254.5 L453.2 252.9 L453.3 255.7 L453.4 254.6 L453.5 254.5 L453.6 253.2 L453.7 257.3 L453.8 256.1 L453.9 256.1 L454.0 250.1 L454.1 254.8 L454.2 256.1 L454.3 259.1 L454.4 257.9 L454.5 260.8 L454.6 258.7 L454.7 262.6 L454.8 259.2 L454.9 262.0 L455.0 259.8 L455.1 264.2 L455.2 263.1 L455.3 262.9 L455.4 265.1 L455.5 265.8 L455.6 264.9 L455.7 263.4 L455.8 262.3 L455.9 262.1 L456.0 262.7 L456.1 261.7 L456.2 261.9 L456.3 260.2 L456.4 264.8 L456.5 264.3 L456.6 264.1 L456.7 257.9 L456.8 261.9 L456.9 261.1 L457.0 259.6 L457.1 257.8 L457.2 259.2 L457.3 260.2 L457.4 265.0 L457.5 264.6 L457.6 264.4 L457.7 265.0 L457.8 262.9 L457.9 262.0 L458.0 261.2 L458.1 261.3 L458.2 262.3 L458.3 265.5 L458.4 262.8 L458.5 262.2 L458.6 259.1 L458.7 266.3 L458.8 259.7 L458.9 262.6 L459.0 262.5 L459.1 264.1 L459.2 262.6 L459.3 262.3 L459.4 260.5 L459.5 261.4 L459.6 256.9 L459.7 260.9 L459.8 261.0 L459.9 259.1 L460.0 259.0 L460.1 257.5 L460.2 256.3 L460.3 256.9 L460.4 260.6 L460.5 255.9 L460.6 254.6 L460.7 253.2 L460.8 253.4 L460.9 252.6 L461.0 253.4 L461.1 255.6 L461.2 259.3 L461.3 254.7 L461.4 253.5 L461.5 253.6 L461.6 255.2 L461.7 250.4 L461.8 249.8 L461.9 255.7 L462.0 256.8 L462.1 254.5 L462.2 252.1 L462.3 255.9 L462.4 249.4 L462.5 248.1 L462.6 253.2 L462.7 255.1 L462.8 256.7 L462.9 255.7 L463.0 254.4 L463.1 253.7 L463.2 254.2 L463.3 252.2 L463.4 254.0 L463.5 253.4 L463.6 258.4 L463.7 256.6 L463.8 255.3 L463.9 255.7 L464.0 253.2 L464.1 253.1 L464.2 258.4 L464.3 253.3 L464.4 253.3 L464.5 249.2 L464.6 255.2 L464.7 255.1 L464.8 255.7 L464.9 255.1 L465.0 259.8 L465.1 258.5 L465.2 255.8 L465.3 251.0 L465.4 255.1 L465.5 254.3 L465.6 251.7 L465.7 252.7 L465.8 253.5 L465.9 253.7 L466.0 256.4 L466.1 260.8 L466.2 256.6 L466.3 257.4 L466.4 255.4 L466.5 257.0 L466.6 255.3 L466.7 255.1 L466.8 255.8 L466.9 259.4 L467.0 260.0 L467.1 259.4 L467.2 256.4 L467.3 256.2 L467.4 258.3 L467.5 257.0 L467.6 259.3 L467.7 258.3 L467.8 260.1 L467.9 260.4 L468.0 260.1 L468.1 258.8 L468.2 262.9 L468.3 263.3 L468.4 267.6 L468.5 260.2 L468.6 263.6 L468.7 259.0 L468.8 263.0 L468.9 258.6 L469.0 255.8 L469.1 260.4 L469.2 261.1 L469.3 258.1 L469.4 257.7 L469.5 260.0 L469.6 258.3 L469.7 261.5 L469.8 258.8 L469.9 259.9 L470.0 264.3 L470.1 264.7 L470.2 261.4 L470.3 264.6 L470.4 262.9 L470.5 266.5 L470.6 264.9 L470.7 268.2 L470.8 264.9 L470.9 267.9 L471.0 269.0 L471.1 270.6 L471.2 268.2 L471.3 269.2 L471.4 264.8 L471.5 266.9 L471.6 262.8 L471.7 267.5 L471.8 268.4 L471.9 267.9 L472.0 271.0 L472.1 268.4 L472.2 267.1 L472.3 266.1 L472.4 266.3 L472.5 267.7 L472.6 268.2 L472.7 266.2 L472.8 267.8 L472.9 266.8 L473.0 270.0 L473.1 267.6 L473.2 268.4 L473.3 271.4 L473.4 269.7 L473.5 270.4 L473.6 270.9 L473.7 271.3 L473.8 271.0 L473.9 270.8 L474.0 267.7 L474.1 270.1 L474.2 272.2 L474.3 268.7 L474.4 266.6 L474.5 270.1 L474.6 270.4 L474.7 272.5 L474.8 272.1 L474.9 274.0 L475.0 273.4 L475.1 273.4 L475.2 272.2 L475.3 270.5 L475.4 272.2 L475.5 273.7 L475.6 273.1 L475.7 270.4 L475.8 263.9 L475.9 269.3 L476.0 270.5 L476.1 267.7 L476.2 264.5 L476.3 266.4 L476.4 266.2 L476.5 270.1 L476.6 270.0 L476.7 267.5 L476.8 265.6 L476.9 268.0 L477.0 266.6 L477.1 271.3 L477.2 266.5 L477.3 270.6 L477.4 269.2 L477.5 262.6 L477.6 263.6 L477.7 260.5 L477.8 268.6 L477.9 268.4 L478.0 270.4 L478.1 268.7 L478.2 271.2 L478.3 274.2 L478.4 272.9 L478.5 272.5 L478.6 267.9 L478.7 270.0 L478.8 265.3 L478.9 274.2 L479.0 273.2 L479.1 274.0 L479.2 274.8 L479.3 276.0 L479.4 271.6 L479.5 267.5 L479.6 271.0 L479.7 273.0 L479.8 270.6 L479.9 269.9 L480.0 276.0 L480.1 277.3 L480.2 276.9 L480.3 273.0 L480.4 271.9 L480.5 272.0 L480.6 276.8 L480.7 271.5 L480.8 269.7 L480.9 269.8 L481.0 272.6 L481.1 271.4 L481.2 272.8 L481.3 274.8 L481.4 272.9 L481.5 274.1 L481.6 274.5 L481.7 274.3 L481.8 270.4 L481.9 269.6 L482.0 270.7 L482.1 268.6 L482.2 273.2 L482.3 273.3 L482.4 269.1 L482.5 271.1 L482.6 272.5 L482.7 269.5 L482.8 269.3 L482.9 272.0 L483.0 268.0 L483.1 271.6 L483.2 268.2 L483.3 266.7 L483.4 268.1 L483.5 270.5 L483.6 264.6 L483.7 268.3 L483.8 269.3 L483.9 266.3 L484.0 264.7 L484.1 265.5 L484.2 263.0 L484.3 259.7 L484.4 261.5 L484.5 260.9 L484.6 262.3 L484.7 261.2 L484.8 260.6 L484.9 258.1 L485.0 256.9 L485.1 263.4 L485.2 255.4 L485.3 257.7 L485.4 259.8 L485.5 254.4 L485.6 255.5 L485.7 253.7 L485.8 254.3 L485.9 254.4 L486.0 257.2 L486.1 258.0 L486.2 257.6 L486.3 255.7 L486.4 256.3 L486.5 253.4 L486.6 255.0 L486.7 254.9 L486.8 253.3 L486.9 254.5 L487.0 256.6 L487.1 257.2 L487.2 254.9 L487.3 256.5 L487.4 253.0 L487.5 254.2 L487.6 252.6 L487.7 252.8 L487.8 254.7 L487.9 259.7 L488.0 257.1 L488.1 257.4 L488.2 259.6 L488.3 254.8 L488.4 252.1 L488.5 254.6 L488.6 258.2 L488.7 256.0 L488.8 256.6 L488.9 256.3 L489.0 258.6 L489.1 255.6 L489.2 257.3 L489.3 257.2 L489.4 258.3 L489.5 254.9 L489.6 251.0 L489.7 254.4 L489.8 254.4 L489.9 256.2 L490.0 253.7 L490.1 257.3 L490.2 260.3 L490.3 257.2 L490.4 258.1 L490.5 257.6 L490.6 260.2 L490.7 262.0 L490.8 261.3 L490.9 264.0 L491.0 258.0 L491.1 260.1 L491.2 259.9 L491.3 261.7 L491.4 261.8 L491.5 261.2 L491.6 259.8 L491.7 256.1 L491.8 259.2 L491.9 255.8 L492.0 253.8 L492.1 257.3 L492.2 263.6 L492.3 258.1 L492.4 250.6 L492.5 252.3 L492.6 253.3 L492.7 253.2 L492.8 252.9 L492.9 249.9 L493.0 249.1 L493.1 249.8 L493.2 251.8 L493.3 253.1 L493.4 250.9 L493.5 250.9 L493.6 248.6 L493.7 245.9 L493.8 245.3 L493.9 246.7 L494.0 248.9 L494.1 256.5 L494.2 250.9 L494.3 251.0 L494.4 243.1 L494.5 244.3 L494.6 246.9 L494.7 248.1 L494.8 254.4 L494.9 249.2 L495.0 248.4 L495.1 251.3 L495.2 244.5 L495.3 247.9 L495.4 242.6 L495.5 247.2 L495.6 244.6 L495.7 240.0 L495.8 238.5 L495.9 237.0 L496.0 238.7 L496.1 236.5 L496.2 236.5 L496.3 237.2 L496.4 233.8 L496.5 236.4 L496.6 233.6 L496.7 240.4 L496.8 241.1 L496.9 238.8 L497.0 237.7 L497.1 236.2 L497.2 232.8 L497.3 230.2 L497.4 229.3 L497.5 231.5 L497.6 233.1 L497.7 233.4 L497.8 233.3 L497.9 234.6 L498.0 236.1 L498.1 232.3 L498.2 231.1 L498.3 234.2 L498.4 231.5 L498.5 229.5 L498.6 232.8 L498.7 233.9 L498.8 231.9 L498.9 232.7 L499.0 233.9 L499.1 228.9 L499.2 234.7 L499.3 236.1 L499.4 232.6 L499.5 228.3 L499.6 227.0 L499.7 233.1 L499.8 231.2 L499.9 231.2 L500.0 229.7 L500.1 225.8 L500.2 229.5 L500.3 228.0 L500.4 232.0 L500.5 228.8 L500.6 225.2 L500.7 228.2 L500.8 234.1 L500.9 230.8 L501.0 236.1 L501.1 231.2 L501.2 230.3 L501.3 224.0 L501.4 228.1 L501.5 228.8 L501.6 229.3 L501.7 235.0 L501.8 232.9 L501.9 233.0 L502.0 233.7 L502.1 229.3 L502.2 233.8 L502.3 233.1 L502.4 232.5 L502.5 234.1 L502.6 230.2 L502.7 234.0 L502.8 232.0 L502.9 236.7 L503.0 241.4 L503.1 236.3 L503.2 240.6 L503.3 235.1 L503.4 235.1 L503.5 240.9 L503.6 235.5 L503.7 241.9 L503.8 231.0 L503.9 234.5 L504.0 230.7 L504.1 235.1 L504.2 234.5 L504.3 229.6 L504.4 229.6 L504.5 234.8 L504.6 233.4 L504.7 228.3 L504.8 231.5 L504.9 236.1 L505.0 229.8 L505.1 235.3 L505.2 230.7 L505.3 230.9 L505.4 226.7 L505.5 232.7 L505.6 229.8 L505.7 227.6 L505.8 224.3 L505.9 224.2 L506.0 227.3 L506.1 233.8 L506.2 231.5 L506.3 229.5 L506.4 227.8 L506.5 229.8 L506.6 229.6 L506.7 221.8 L506.8 219.3 L506.9 225.9 L507.0 225.0 L507.1 220.4 L507.2 221.1 L507.3 221.3 L507.4 221.8 L507.5 225.7 L507.6 221.1 L507.7 222.2 L507.8 219.3 L507.9 223.1 L508.0 220.9 L508.1 220.6 L508.2 216.8 L508.3 217.5 L508.4 218.8 L508.5 220.3 L508.6 218.3 L508.7 222.3 L508.8 218.7 L508.9 217.2 L509.0 211.6 L509.1 219.7 L509.2 217.9 L509.3 217.4 L509.4 215.5 L509.5 221.1 L509.6 212.6 L509.7 215.5 L509.8 216.0 L509.9 216.0 L510.0 221.7 L510.1 220.1 L510.2 222.1 L510.3 220.3 L510.4 222.2 L510.5 221.4 L510.6 218.9 L510.7 219.9 L510.8 223.5 L510.9 224.4 L511.0 224.2 L511.1 223.5 L511.2 224.2 L511.3 227.4 L511.4 223.1 L511.5 222.2 L511.6 221.5 L511.7 219.8 L511.8 228.8 L511.9 229.9 L512.0 228.5 L512.1 227.5 L512.2 222.7 L512.3 229.4 L512.4 228.1 L512.5 230.5 L512.6 226.8 L512.7 227.7 L512.8 223.0 L512.9 223.5 L513.0 224.3 L513.1 225.5 L513.2 227.7 L513.3 229.7 L513.4 231.5 L513.5 230.3 L513.6 227.8 L513.7 228.3 L513.8 228.5 L513.9 226.5 L514.0 225.5 L514.1 227.8 L514.2 226.2 L514.3 228.3 L514.4 230.5 L514.5 228.6 L514.6 229.3 L514.7 229.2 L514.8 224.9 L514.9 225.4 L515.0 233.1 L515.1 223.8 L515.2 229.1 L515.3 231.4 L515.4 228.7 L515.5 227.5 L515.6 226.7 L515.7 225.6 L515.8 224.2 L515.9 230.0 L516.0 232.1 L516.1 228.8 L516.2 231.5 L516.3 232.6 L516.4 233.8 L516.5 228.3 L516.6 228.0 L516.7 225.4 L516.8 225.9 L516.9 226.3 L517.0 227.6 L517.1 226.1 L517.2 221.9 L517.3 222.5 L517.4 227.2 L517.5 226.0 L517.6 226.3 L517.7 223.2 L517.8 223.1 L517.9 225.9 L518.0 224.2 L518.1 225.9 L518.2 226.8 L518.3 227.6 L518.4 226.8 L518.5 225.6 L518.6 220.8 L518.7 217.3 L518.8 218.7 L518.9 220.8 L519.0 216.8 L519.1 217.0 L519.2 223.0 L519.3 219.6 L519.4 221.7 L519.5 218.1 L519.6 220.8 L519.7 218.9 L519.8 219.6 L519.9 220.8 L520.0 223.7 L520.1 221.2 L520.2 220.3 L520.3 219.5 L520.4 219.0 L520.5 214.2 L520.6 210.9 L520.7 209.0 L520.8 209.0 L520.9 207.6 L521.0 207.6 L521.1 208.1 L521.2 214.6 L521.3 211.9 L521.4 209.0 L521.5 214.5 L521.6 207.6 L521.7 207.0 L521.8 209.5 L521.9 208.7 L522.0 212.7 L522.1 214.5 L522.2 214.4 L522.3 209.0 L522.4 207.9 L522.5 209.0 L522.6 205.4 L522.7 205.8 L522.8 203.2 L522.9 205.2 L523.0 201.4 L523.1 199.9 L523.2 201.7 L523.3 201.6 L523.4 200.4 L523.5 199.6 L523.6 199.0 L523.7 199.6 L523.8 202.9 L523.9 206.2 L524.0 205.8 L524.1 207.4 L524.2 202.2 L524.3 202.0 L524.4 205.1 L524.5 201.8 L524.6 211.7 L524.7 209.1 L524.8 206.2 L524.9 204.7 L525.0 204.1 L525.1 205.0 L525.2 208.7 L525.3 210.4 L525.4 207.8 L525.5 208.7 L525.6 210.2 L525.7 212.4 L525.8 210.1 L525.9 215.6 L526.0 212.0 L526.1 213.2 L526.2 213.2 L526.3 212.8 L526.4 209.3 L526.5 204.1 L526.6 201.7 L526.7 203.9 L526.8 205.0 L526.9 208.0 L527.0 211.2 L527.1 208.2 L527.2 209.3 L527.3 203.4 L527.4 210.8 L527.5 205.7 L527.6 211.5 L527.7 210.4 L527.8 212.7 L527.9 204.4 L528.0 205.2 L528.1 209.0 L528.2 213.4 L528.3 206.3 L528.4 208.0 L528.5 207.0 L528.6 205.4 L528.7 212.0 L528.8 205.2 L528.9 200.6 L529.0 198.8 L529.1 201.9 L529.2 202.3 L529.3 200.4 L529.4 204.6 L529.5 195.9 L529.6 198.7 L529.7 194.3 L529.8 190.0 L529.9 191.3 L530.0 195.3 L530.1 185.3 L530.2 188.2 L530.3 184.2 L530.4 182.2 L530.5 182.5 L530.6 180.6 L530.7 177.8 L530.8 173.7 L530.9 177.1 L531.0 173.9 L531.1 180.5 L531.2 184.8 L531.3 178.0 L531.4 175.6 L531.5 180.5 L531.6 186.8 L531.7 184.1 L531.8 185.5 L531.9 178.1 L532.0 174.4 L532.1 170.6 L532.2 174.0 L532.3 182.7 L532.4 175.3 L532.5 182.5 L532.6 179.3 L532.7 177.8 L532.8 177.5 L532.9 181.1 L533.0 173.3 L533.1 175.5 L533.2 179.2 L533.3 180.4 L533.4 181.1 L533.5 183.2 L533.6 177.2 L533.7 174.6 L533.8 177.9 L533.9 178.6 L534.0 176.2 L534.1 169.8 L534.2 168.3 L534.3 166.5 L534.4 170.1 L534.5 169.9 L534.6 169.4 L534.7 173.3 L534.8 173.5 L534.9 173.8 L535.0 178.6 L535.1 173.6 L535.2 171.1 L535.3 166.6 L535.4 171.7 L535.5 172.2 L535.6 170.5 L535.7 170.3 L535.8 167.7 L535.9 170.2 L536.0 172.2 L536.1 173.1 L536.2 173.7 L536.3 170.9 L536.4 176.5 L536.5 174.3 L536.6 170.4 L536.7 173.1 L536.8 178.3 L536.9 174.9 L537.0 177.1 L537.1 183.1 L537.2 178.3 L537.3 176.2 L537.4 176.9 L537.5 178.3 L537.6 183.2 L537.7 179.6 L537.8 182.9 L537.9 184.9 L538.0 190.9 L538.1 186.7 L538.2 188.1 L538.3 187.4 L538.4 189.6 L538.5 189.8 L538.6 195.8 L538.7 190.2 L538.8 188.6 L538.9 187.7 L539.0 192.8 L539.1 192.7 L539.2 196.1 L539.3 193.6 L539.4 197.5 L539.5 195.9 L539.6 199.9 L539.7 202.3 L539.8 201.4 L539.9 197.3 L540.0 198.0 L540.1 198.5 L540.2 196.6 L540.3 202.8 L540.4 204.9 L540.5 202.4 L540.6 208.8 L540.7 210.3 L540.8 210.1 L540.9 209.4 L541.0 209.7 L541.1 209.9 L541.2 206.3 L541.3 207.7 L541.4 210.1 L541.5 206.0 L541.6 205.9 L541.7 214.2 L541.8 206.5 L541.9 204.2 L542.0 203.8 L542.1 198.6 L542.2 202.4 L542.3 197.3 L542.4 196.4 L542.5 192.9 L542.6 192.3 L542.7 190.7 L542.8 192.5 L542.9 197.8 L543.0 200.2 L543.1 196.3 L543.2 189.2 L543.3 190.1 L543.4 190.5 L543.5 191.9 L543.6 191.9 L543.7 192.6 L543.8 191.8 L543.9 195.9 L544.0 201.8 L544.1 197.5 L544.2 201.5 L544.3 200.7 L544.4 190.9 L544.5 191.4 L544.6 191.8 L544.7 198.0 L544.8 197.4 L544.9 196.7 L545.0 196.6 L545.1 193.0 L545.2 196.1 L545.3 196.3 L545.4 192.8 L545.5 195.9 L545.6 198.0 L545.7 199.1 L545.8 200.0 L545.9 203.8 L546.0 198.6 L546.1 200.9 L546.2 199.2 L546.3 202.4 L546.4 200.4 L546.5 198.9 L546.6 201.0 L546.7 201.4 L546.8 200.7 L546.9 198.8 L547.0 190.5 L547.1 189.5 L547.2 195.6 L547.3 192.0 L547.4 194.5 L547.5 194.9 L547.6 195.2 L547.7 196.2 L547.8 191.9 L547.9 186.3 L548.0 185.1 L548.1 188.4 L548.2 181.9 L548.3 184.2 L548.4 184.3 L548.5 185.0 L548.6 189.9 L548.7 186.2 L548.8 178.7 L548.9 179.3 L549.0 180.0 L549.1 174.3 L549.2 177.7 L549.3 179.8 L549.4 173.4 L549.5 178.6 L549.6 183.7 L549.7 174.1 L549.8 171.0 L549.9 174.2 L550.0 174.9 L550.1 172.2 L550.2 175.8 L550.3 179.0 L550.4 173.5 L550.5 177.2 L550.6 171.2 L550.7 170.5 L550.8 171.0 L550.9 175.5 L551.0 161.3 L551.1 163.5 L551.2 166.3 L551.3 169.6 L551.4 175.4 L551.5 165.3 L551.6 170.8 L551.7 168.3 L551.8 167.8 L551.9 171.0 L552.0 171.4 L552.1 169.0 L552.2 168.4 L552.3 170.3 L552.4 163.1 L552.5 170.3 L552.6 169.7 L552.7 163.4 L552.8 161.5 L552.9 162.8 L553.0 164.6 L553.1 169.2 L553.2 165.0 L553.3 160.0 L553.4 157.8 L553.5 156.4 L553.6 155.3 L553.7 156.9 L553.8 154.9 L553.9 160.8 L554.0 160.6 L554.1 155.7 L554.2 150.6 L554.3 155.0 L554.4 151.9 L554.5 157.6 L554.6 159.1 L554.7 150.0 L554.8 154.1 L554.9 150.7 L555.0 154.9 L555.1 148.0 L555.2 156.0 L555.3 161.0 L555.4 154.3 L555.5 159.6 L555.6 158.7 L555.7 158.2 L555.8 158.5 L555.9 161.2 L556.0 157.7 L556.1 157.1 L556.2 157.6 L556.3 151.6 L556.4 154.9 L556.5 150.2 L556.6 147.4 L556.7 152.3 L556.8 150.1 L556.9 149.0 L557.0 149.7 L557.1 151.8 L557.2 162.8 L557.3 156.5 L557.4 159.1 L557.5 157.8 L557.6 154.2 L557.7 156.0 L557.8 163.4 L557.9 161.3 L558.0 161.2 L558.1 166.1 L558.2 162.3 L558.3 163.8 L558.4 162.2 L558.5 162.6 L558.6 159.6 L558.7 158.3 L558.8 161.9 L558.9 168.9 L559.0 169.9 L559.1 168.4 L559.2 169.5 L559.3 169.4 L559.4 166.0 L559.5 173.3 L559.6 173.2 L559.7 169.2 L559.8 169.1 L559.9 166.8 L560.0 165.3 L560.1 174.2 L560.2 169.8 L560.3 163.8 L560.4 171.2 L560.5 173.7 L560.6 172.0 L560.7 176.3 L560.8 171.0 L560.9 171.5 L561.0 168.7 L561.1 175.1 L561.2 170.7 L561.3 167.6 L561.4 169.9 L561.5 170.5 L561.6 167.5 L561.7 167.6 L561.8 170.0 L561.9 172.1 L562.0 176.6 L562.1 177.1 L562.2 172.3 L562.3 172.4 L562.4 170.8 L562.5 172.1 L562.6 175.0 L562.7 180.4 L562.8 177.3 L562.9 178.1 L563.0 178.9 L563.1 184.1 L563.2 183.1 L563.3 173.7 L563.4 174.0 L563.5 171.7 L563.6 172.0 L563.7 174.6 L563.8 171.8 L563.9 168.7 L564.0 170.4 L564.1 178.1 L564.2 176.0 L564.3 168.5 L564.4 174.1 L564.5 163.8 L564.6 161.4 L564.7 158.2 L564.8 165.5 L564.9 165.4 L565.0 168.2 L565.1 161.3 L565.2 157.9 L565.3 162.3 L565.4 161.7 L565.5 163.4 L565.6 166.9 L565.7 170.1 L565.8 167.0 L565.9 166.4 L566.0 166.8 L566.1 157.0 L566.2 156.7 L566.3 157.6 L566.4 157.4 L566.5 160.6 L566.6 159.5 L566.7 157.1 L566.8 160.8 L566.9 160.3 L567.0 153.2 L567.1 153.7 L567.2 153.0 L567.3 153.1 L567.4 151.6 L567.5 157.1 L567.6 153.7 L567.7 156.9 L567.8 149.5 L567.9 157.2 L568.0 156.1 L568.1 152.0 L568.2 156.8 L568.3 154.2 L568.4 164.3 L568.5 164.8 L568.6 160.0 L568.7 160.8 L568.8 161.7 L568.9 163.1 L569.0 170.0 L569.1 165.0 L569.2 169.0 L569.3 168.5 L569.4 169.3 L569.5 166.1 L569.6 163.8 L569.7 166.6 L569.8 168.2 L569.9 161.3 L570.0 166.2 L570.1 163.2 L570.2 161.0 L570.3 162.6 L570.4 159.5 L570.5 160.3 L570.6 161.7 L570.7 162.4 L570.8 165.3 L570.9 165.4 L571.0 165.6 L571.1 162.8 L571.2 166.6 L571.3 163.9 L571.4 164.6 L571.5 165.5 L571.6 164.8 L571.7 166.0 L571.8 165.5 L571.9 166.1 L572.0 166.6 L572.1 162.6 L572.2 163.1 L572.3 169.7 L572.4 165.7 L572.5 170.4 L572.6 166.0 L572.7 165.9 L572.8 162.2 L572.9 164.6 L573.0 164.3 L573.1 163.4 L573.2 164.0 L573.3 165.9 L573.4 158.0 L573.5 164.1 L573.6 162.2 L573.7 158.2 L573.8 158.4 L573.9 156.7 L574.0 156.5 L574.1 156.1 L574.2 148.1 L574.3 156.5 L574.4 157.9 L574.5 159.7 L574.6 160.9 L574.7 162.8 L574.8 149.4 L574.9 150.0 L575.0 149.9 L575.1 157.6 L575.2 154.7 L575.3 153.6 L575.4 150.4 L575.5 146.4 L575.6 146.4 L575.7 152.7 L575.8 151.3 L575.9 148.6 L576.0 147.9 L576.1 148.2 L576.2 146.8 L576.3 147.9 L576.4 159.1 L576.5 154.5 L576.6 151.1 L576.7 150.5 L576.8 151.8 L576.9 144.1 L577.0 140.7 L577.1 147.5 L577.2 144.5 L577.3 146.9 L577.4 153.5 L577.5 150.1 L577.6 149.2 L577.7 149.0 L577.8 145.2 L577.9 144.9 L578.0 147.8 L578.1 150.9 L578.2 145.9 L578.3 147.9 L578.4 146.1 L578.5 145.6 L578.6 145.3 L578.7 149.9 L578.8 153.8 L578.9 146.4 L579.0 147.8 L579.1 149.6 L579.2 161.9 L579.3 146.9 L579.4 147.1 L579.5 145.0 L579.6 149.0 L579.7 148.6 L579.8 146.6 L579.9 145.8 L580.0 153.0 L580.1 155.0 L580.2 155.2 L580.3 162.2 L580.4 164.4 L580.5 166.3 L580.6 164.2 L580.7 161.0 L580.8 168.6 L580.9 164.4 L581.0 156.6 L581.1 158.7 L581.2 156.0 L581.3 153.0 L581.4 158.6 L581.5 165.8 L581.6 168.1 L581.7 165.0 L581.8 166.7 L581.9 162.8 L582.0 168.8 L582.1 161.7 L582.2 168.8 L582.3 170.6 L582.4 173.9 L582.5 171.3 L582.6 174.8 L582.7 174.8 L582.8 178.4 L582.9 176.4 L583.0 172.2 L583.1 174.6 L583.2 175.2 L583.3 184.7 L583.4 185.9 L583.5 183.5 L583.6 187.5 L583.7 195.6 L583.8 199.9 L583.9 207.8 L584.0 203.1 L584.1 202.9 L584.2 210.2 L584.3 218.0 L584.4 219.2 L584.5 225.8 L584.6 224.4 L584.7 223.4 L584.8 223.3 L584.9 227.5 L585.0 222.3 L585.1 225.4 L585.2 227.9 L585.3 225.9 L585.4 226.0 L585.5 223.8 L585.6 223.7 L585.7 219.1 L585.8 223.6 L585.9 224.7 L586.0 223.6 L586.1 220.2 L586.2 220.7 L586.3 222.4 L586.4 222.5 L586.5 225.5 L586.6 221.5 L586.7 218.1 L586.8 221.3 L586.9 224.7 L587.0 230.1 L587.1 227.0 L587.2 226.8 L587.3 222.3 L587.4 223.5 L587.5 225.1 L587.6 229.7 L587.7 222.6 L587.8 218.8 L587.9 224.8 L588.0 219.3 L588.1 219.2 L588.2 214.7 L588.3 216.2 L588.4 214.1 L588.5 205.0 L588.6 207.1 L588.7 203.4 L588.8 200.4 L588.9 199.5 L589.0 200.1 L589.1 200.4 L589.2 194.2 L589.3 195.0 L589.4 191.3 L589.5 194.2 L589.6 196.6 L589.7 205.3 L589.8 198.2 L589.9 194.2 L590.0 195.3 L590.1 192.7 L590.2 191.3 L590.3 195.7 L590.4 191.2 L590.5 189.6 L590.6 193.9 L590.7 192.6 L590.8 192.4 L590.9 196.9 L591.0 191.3 L591.1 196.3 L591.2 193.8 L591.3 195.6 L591.4 198.7 L591.5 199.1 L591.6 202.4 L591.7 196.4 L591.8 195.2 L591.9 202.7 L592.0 199.0 L592.1 194.1 L592.2 195.3 L592.3 204.9 L592.4 203.0 L592.5 203.7 L592.6 203.5 L592.7 202.5 L592.8 200.3 L592.9 197.3 L593.0 196.6 L593.1 200.2 L593.2 196.2 L593.3 202.6 L593.4 195.1 L593.5 195.5 L593.6 200.7 L593.7 198.1 L593.8 199.0 L593.9 200.5 L594.0 198.5 L594.1 205.8 L594.2 206.4 L594.3 210.7 L594.4 204.7 L594.5 206.8 L594.6 201.6 L594.7 204.6 L594.8 203.2 L594.9 204.9 L595.0 198.1 L595.1 202.5 L595.2 205.8 L595.3 204.1 L595.4 204.9 L595.5 208.9 L595.6 208.3 L595.7 210.4 L595.8 213.7 L595.9 215.7 L596.0 215.6 L596.1 213.4 L596.2 215.0 L596.3 215.6 L596.4 216.5 L596.5 211.6 L596.6 210.3 L596.7 211.2 L596.8 203.6 L596.9 207.0 L597.0 208.7 L597.1 205.3 L597.2 207.9 L597.3 209.7 L597.4 206.9 L597.5 201.4 L597.6 211.8 L597.7 204.3 L597.8 203.8 L597.9 205.2 L598.0 198.2 L598.1 201.3 L598.2 205.0 L598.3 208.4 L598.4 205.6 L598.5 204.4 L598.6 197.6 L598.7 198.0 L598.8 197.3 L598.9 199.5 L599.0 202.6 L599.1 197.1 L599.2 199.3 L599.3 198.6 L599.4 199.3 L599.5 195.4 L599.6 189.0 L599.7 195.7 L599.8 194.4 L599.9 192.1 L600.0 187.3 L600.1 191.2 L600.2 198.0 L600.3 185.3 L600.4 183.7 L600.5 178.8 L600.6 180.6 L600.7 177.7 L600.8 180.9 L600.9 181.5 L601.0 184.2 L601.1 184.6 L601.2 185.5 L601.3 185.9 L601.4 184.8 L601.5 189.3 L601.6 187.6 L601.7 178.4 L601.8 181.2 L601.9 178.2 L602.0 176.0 L602.1 176.0 L602.2 173.1 L602.3 172.8 L602.4 172.4 L602.5 180.0 L602.6 179.2 L602.7 184.2 L602.8 179.3 L602.9 177.3 L603.0 179.1 L603.1 176.6 L603.2 175.2 L603.3 172.2 L603.4 176.5 L603.5 171.1 L603.6 178.3 L603.7 171.5 L603.8 174.5 L603.9 176.7 L604.0 180.5 L604.1 174.1 L604.2 177.2 L604.3 178.1 L604.4 186.0 L604.5 175.7 L604.6 173.2 L604.7 181.1 L604.8 179.4 L604.9 180.1 L605.0 183.0 L605.1 182.4 L605.2 187.5 L605.3 181.1 L605.4 177.9 L605.5 180.1 L605.6 181.4 L605.7 185.9 L605.8 183.0 L605.9 188.5 L606.0 190.1 L606.1 182.8 L606.2 179.3 L606.3 185.2 L606.4 185.7 L606.5 182.4 L606.6 185.9 L606.7 183.7 L606.8 184.5 L606.9 186.6 L607.0 197.2 L607.1 195.0 L607.2 187.3 L607.3 189.7 L607.4 190.7 L607.5 186.4 L607.6 196.5 L607.7 192.0 L607.8 196.5 L607.9 196.3 L608.0 192.7 L608.1 200.3 L608.2 196.2 L608.3 200.0 L608.4 203.7 L608.5 199.3 L608.6 201.7 L608.7 202.2 L608.8 195.4 L608.9 202.7 L609.0 201.4 L609.1 199.6 L609.2 200.1 L609.3 195.3 L609.4 197.0 L609.5 199.5 L609.6 194.2 L609.7 194.2 L609.8 195.3 L609.9 189.9 L610.0 195.5 L610.1 198.0 L610.2 198.6 L610.3 195.0 L610.4 193.7 L610.5 195.2 L610.6 193.1 L610.7 195.3 L610.8 195.3 L610.9 195.9 L611.0 192.6 L611.1 188.8 L611.2 189.1 L611.3 188.4 L611.4 191.2 L611.5 189.3 L611.6 186.3 L611.7 186.4 L611.8 191.2 L611.9 188.5 L612.0 184.2 L612.1 179.6 L612.2 181.1 L612.3 180.9 L612.4 181.7 L612.5 175.2 L612.6 183.8 L612.7 181.9 L612.8 168.9 L612.9 172.8 L613.0 169.5 L613.1 177.5 L613.2 173.5 L613.3 172.8 L613.4 172.8 L613.5 172.3 L613.6 169.5 L613.7 175.0 L613.8 174.4 L613.9 169.4 L614.0 175.6 L614.1 170.8 L614.2 172.2 L614.3 168.5 L614.4 167.9 L614.5 165.8 L614.6 167.6 L614.7 167.9 L614.8 164.0 L614.9 171.6 L615.0 166.2 L615.1 163.4 L615.2 162.9 L615.3 169.1 L615.4 171.0 L615.5 171.3 L615.6 170.4 L615.7 173.8 L615.8 169.4 L615.9 167.3 L616.0 167.9 L616.1 168.7 L616.2 177.3 L616.3 174.7 L616.4 177.3 L616.5 175.8 L616.6 179.0 L616.7 176.6 L616.8 180.5 L616.9 177.3 L617.0 169.4 L617.1 172.9 L617.2 178.2 L617.3 177.5 L617.4 172.7 L617.5 173.8 L617.6 170.2 L617.7 177.8 L617.8 176.2 L617.9 173.8 L618.0 176.6 L618.1 178.6 L618.2 171.9 L618.3 175.1 L618.4 178.5 L618.5 176.6 L618.6 178.7 L618.7 183.9 L618.8 182.2 L618.9 177.3 L619.0 180.8 L619.1 180.1 L619.2 175.1 L619.3 176.7 L619.4 174.8 L619.5 175.0 L619.6 175.7 L619.7 176.1 L619.8 175.3 L619.9 183.4 L620.0 177.2 L620.1 176.6 L620.2 181.2 L620.3 177.2 L620.4 178.7 L620.5 185.2 L620.6 183.4 L620.7 188.8 L620.8 183.4 L620.9 180.6 L621.0 182.1 L621.1 181.9 L621.2 182.7 L621.3 184.1 L621.4 191.1 L621.5 200.4 L621.6 194.4 L621.7 197.2 L621.8 197.9 L621.9 190.7 L622.0 198.0 L622.1 194.8 L622.2 200.2 L622.3 200.9 L622.4 196.2 L622.5 202.8 L622.6 199.8 L622.7 205.3 L622.8 202.2 L622.9 206.0 L623.0 209.5 L623.1 201.5 L623.2 202.0 L623.3 204.3 L623.4 205.7 L623.5 204.0 L623.6 202.9 L623.7 203.9 L623.8 206.5 L623.9 211.1 L624.0 215.2 L624.1 213.1 L624.2 216.4 L624.3 215.2 L624.4 217.4 L624.5 215.7 L624.6 210.8 L624.7 211.3 L624.8 211.6 L624.9 206.8 L625.0 208.3 L625.1 210.7 L625.2 209.1 L625.3 210.0 L625.4 216.7 L625.5 208.8 L625.6 211.5 L625.7 217.4 L625.8 219.2 L625.9 217.6 L626.0 218.9 L626.1 218.8 L626.2 220.7 L626.3 218.4 L626.4 222.1 L626.5 219.3 L626.6 219.2 L626.7 224.1 L626.8 222.3 L626.9 224.3 L627.0 222.6 L627.1 220.5 L627.2 224.5 L627.3 221.9 L627.4 213.4 L627.5 216.3 L627.6 212.5 L627.7 213.2 L627.8 217.8 L627.9 214.0 L628.0 211.9 L628.1 208.7 L628.2 212.5 L628.3 213.2 L628.4 214.4 L628.5 211.1 L628.6 214.0 L628.7 210.6 L628.8 207.6 L628.9 207.2 L629.0 204.9 L629.1 205.2 L629.2 204.1 L629.3 204.1 L629.4 209.4 L629.5 208.1 L629.6 206.9 L629.7 203.1 L629.8 204.9 L629.9 207.2 L630.0 205.2 L630.1 203.6 L630.2 195.1 L630.3 198.8 L630.4 195.7 L630.5 196.8 L630.6 202.4 L630.7 199.9 L630.8 207.7 L630.9 204.6 L631.0 200.6 L631.1 197.4 L631.2 199.5 L631.3 198.5 L631.4 202.1 L631.5 207.9 L631.6 202.4 L631.7 196.9 L631.8 194.9 L631.9 200.9 L632.0 201.1 L632.1 195.1 L632.2 190.3 L632.3 192.0 L632.4 192.5 L632.5 189.5 L632.6 187.4 L632.7 191.2 L632.8 186.4 L632.9 192.0 L633.0 195.6 L633.1 191.2 L633.2 190.4 L633.3 189.7 L633.4 187.8 L633.5 186.4 L633.6 184.7 L633.7 180.8 L633.8 185.4 L633.9 187.6 L634.0 186.4 L634.1 185.8 L634.2 186.8 L634.3 186.2 L634.4 185.5 L634.5 185.1 L634.6 188.0 L634.7 188.6 L634.8 191.3 L634.9 197.0 L635.0 195.5 L635.1 192.8 L635.2 193.0 L635.3 198.8 L635.4 196.2 L635.5 194.7 L635.6 199.8 L635.7 201.5 L635.8 199.5 L635.9 198.5 L636.0 195.8 L636.1 197.4 L636.2 199.4 L636.3 194.2 L636.4 199.5 L636.5 199.1 L636.6 195.2 L636.7 194.2 L636.8 194.4 L636.9 197.7 L637.0 199.9 L637.1 204.0 L637.2 201.6 L637.3 201.8 L637.4 211.6 L637.5 206.8 L637.6 204.8 L637.7 212.2 L637.8 205.5 L637.9 205.4 L638.0 206.5 L638.1 206.7 L638.2 204.6 L638.3 210.2 L638.4 211.8 L638.5 209.6 L638.6 209.6 L638.7 214.3 L638.8 211.8 L638.9 207.5 L639.0 211.8 L639.1 208.1 L639.2 212.1 L639.3 212.3 L639.4 209.6 L639.5 216.6 L639.6 213.8 L639.7 211.6 L639.8 214.8 L639.9 213.5 L640.0 214.1 L640.1 214.8 L640.2 211.8 L640.3 216.0 L640.4 214.0 L640.5 217.1 L640.6 215.5 L640.7 215.1 L640.8 212.9 L640.9 206.8 L641.0 212.1 L641.1 210.6 L641.2 209.9 L641.3 214.8 L641.4 206.1 L641.5 204.7 L641.6 206.2 L641.7 205.2 L641.8 207.7 L641.9 209.7 L642.0 204.3 L642.1 205.3 L642.2 203.1 L642.3 200.1 L642.4 201.0 L642.5 201.4 L642.6 202.9 L642.7 191.6 L642.8 193.7 L642.9 198.7 L643.0 196.6 L643.1 191.1 L643.2 192.0 L643.3 200.4 L643.4 195.5 L643.5 191.2 L643.6 195.7 L643.7 193.9 L643.8 193.9 L643.9 191.6 L644.0 192.3 L644.1 187.9 L644.2 183.1 L644.3 181.8 L644.4 183.5 L644.5 181.3 L644.6 183.3 L644.7 177.8 L644.8 181.3 L644.9 182.2 L645.0 179.5 L645.1 184.7 L645.2 187.0 L645.3 188.6 L645.4 189.5 L645.5 184.8 L645.6 182.5 L645.7 181.1 L645.8 180.0 L645.9 177.8 L646.0 178.9 L646.1 178.2 L646.2 180.3 L646.3 185.6 L646.4 175.0 L646.5 179.7 L646.6 176.2 L646.7 173.1 L646.8 174.0 L646.9 179.0 L647.0 176.9 L647.1 177.9 L647.2 175.3 L647.3 172.0 L647.4 172.7 L647.5 180.4 L647.6 179.0 L647.7 169.4 L647.8 169.0 L647.9 172.6 L648.0 168.2 L648.1 171.2 L648.2 178.4 L648.3 183.9 L648.4 174.0 L648.5 169.7 L648.6 168.0 L648.7 175.1 L648.8 168.9 L648.9 175.8 L649.0 175.4 L649.1 182.2 L649.2 185.6 L649.3 180.6 L649.4 181.6 L649.5 181.8 L649.6 179.8 L649.7 179.5 L649.8 180.7 L649.9 184.2 L650.0 188.4 L650.1 184.9 L650.2 184.4 L650.3 186.2 L650.4 193.4 L650.5 189.4 L650.6 191.6 L650.7 193.5 L650.8 191.9 L650.9 192.8 L651.0 191.4 L651.1 187.7 L651.2 193.2 L651.3 191.6 L651.4 202.4 L651.5 203.3 L651.6 202.1 L651.7 197.3 L651.8 198.8 L651.9 197.4 L652.0 197.3 L652.1 192.0 L652.2 191.4 L652.3 198.3 L652.4 201.4 L652.5 202.4 L652.6 199.3 L652.7 199.6 L652.8 199.1 L652.9 196.5 L653.0 203.6 L653.1 200.4 L653.2 198.3 L653.3 202.6 L653.4 205.5 L653.5 203.5 L653.6 202.2 L653.7 194.0 L653.8 193.2 L653.9 193.1 L654.0 193.3 L654.1 193.7 L654.2 191.0 L654.3 194.3 L654.4 192.3 L654.5 191.0 L654.6 190.2 L654.7 194.5 L654.8 192.0 L654.9 190.7 L655.0 192.0 L655.1 191.3 L655.2 197.2 L655.3 193.4 L655.4 197.3 L655.5 198.0 L655.6 196.1 L655.7 193.5 L655.8 195.1 L655.9 193.5 L656.0 196.2 L656.1 187.9 L656.2 195.2 L656.3 203.0 L656.4 200.1 L656.5 197.5 L656.6 197.8 L656.7 195.7 L656.8 199.9 L656.9 201.1 L657.0 209.2 L657.1 203.0 L657.2 204.9 L657.3 202.3 L657.4 199.1 L657.5 202.6 L657.6 202.9 L657.7 203.0 L657.8 201.5 L657.9 204.0 L658.0 199.9 L658.1 200.1 L658.2 197.6 L658.3 198.0 L658.4 195.9 L658.5 201.2 L658.6 199.2 L658.7 192.6 L658.8 195.1 L658.9 203.4 L659.0 206.0 L659.1 199.6 L659.2 199.9 L659.3 199.9 L659.4 198.2 L659.5 203.5 L659.6 200.0 L659.7 193.2 L659.8 191.7 L659.9 193.4 L660.0 185.4 L660.1 187.0 L660.2 186.6 L660.3 188.5 L660.4 192.7 L660.5 191.0 L660.6 188.1 L660.7 193.6 L660.8 190.5 L660.9 187.1 L661.0 194.4 L661.1 191.6 L661.2 194.1 L661.3 183.0 L661.4 184.9 L661.5 185.3 L661.6 184.8 L661.7 181.9 L661.8 186.9 L661.9 189.9 L662.0 181.4 L662.1 185.7 L662.2 184.4 L662.3 182.2 L662.4 176.7 L662.5 175.7 L662.6 176.4 L662.7 172.6 L662.8 172.7 L662.9 172.7 L663.0 174.5 L663.1 169.1 L663.2 169.3 L663.3 167.7 L663.4 166.5 L663.5 170.8 L663.6 170.9 L663.7 173.8 L663.8 173.9 L663.9 172.9 L664.0 166.6 L664.1 165.6 L664.2 167.1 L664.3 168.7 L664.4 164.0 L664.5 170.8 L664.6 166.8 L664.7 166.3 L664.8 167.0 L664.9 167.5 L665.0 165.2 L665.1 165.9 L665.2 165.8 L665.3 170.1 L665.4 172.3 L665.5 169.2 L665.6 168.5 L665.7 173.1 L665.8 171.3 L665.9 167.1 L666.0 167.2 L666.1 165.7 L666.2 169.3 L666.3 173.6 L666.4 169.6 L666.5 169.6 L666.6 170.5 L666.7 170.7 L666.8 176.9 L666.9 167.7 L667.0 172.1 L667.1 177.6 L667.2 170.7 L667.3 180.0 L667.4 182.8 L667.5 179.3 L667.6 183.3 L667.7 178.2 L667.8 182.6 L667.9 182.8 L668.0 181.1 L668.1 182.9 L668.2 183.9 L668.3 186.1 L668.4 184.3 L668.5 174.6 L668.6 175.6 L668.7 184.2 L668.8 181.2 L668.9 175.7 L669.0 178.0 L669.1 180.2 L669.2 183.5 L669.3 185.1 L669.4 186.9 L669.5 179.7 L669.6 179.3 L669.7 188.0 L669.8 185.5 L669.9 183.1 L670.0 174.6 L670.1 180.4 L670.2 182.7 L670.3 184.6 L670.4 179.7 L670.5 184.1 L670.6 183.7 L670.7 179.7 L670.8 185.1 L670.9 184.8 L671.0 179.0 L671.1 178.5 L671.2 181.4 L671.3 180.9 L671.4 183.0 L671.5 177.4 L671.6 177.0 L671.7 178.7 L671.8 177.9 L671.9 171.6 L672.0 169.6 L672.1 170.9 L672.2 174.0 L672.3 166.9 L672.4 174.4 L672.5 171.5 L672.6 164.1 L672.7 166.8 L672.8 164.6 L672.9 166.7 L673.0 166.4 L673.1 160.7 L673.2 165.8 L673.3 166.8 L673.4 169.7 L673.5 168.8 L673.6 171.5 L673.7 172.4 L673.8 171.4 L673.9 170.7 L674.0 167.3 L674.1 162.2 L674.2 168.4 L674.3 171.1 L674.4 161.5 L674.5 161.7 L674.6 159.2 L674.7 156.0 L674.8 154.8 L674.9 148.4 L675.0 147.0 L675.1 141.2 L675.2 148.0 L675.3 147.1 L675.4 146.9 L675.5 149.8 L675.6 153.0 L675.7 150.0 L675.8 145.5 L675.9 146.3 L676.0 143.9 L676.1 137.0 L676.2 142.6 L676.3 142.8 L676.4 148.0 L676.5 148.1 L676.6 147.7 L676.7 142.9 L676.8 144.8 L676.9 140.4 L677.0 146.7 L677.1 143.8 L677.2 147.3 L677.3 144.2 L677.4 137.7 L677.5 140.4 L677.6 140.7 L677.7 146.0 L677.8 142.3 L677.9 138.0 L678.0 145.2 L678.1 143.1 L678.2 143.2 L678.3 142.1 L678.4 139.5 L678.5 147.2 L678.6 146.9 L678.7 145.1 L678.8 144.3 L678.9 143.5 L679.0 136.6 L679.1 133.5 L679.2 132.8 L679.3 136.7 L679.4 142.6 L679.5 135.3 L679.6 137.2 L679.7 128.6 L679.8 128.3 L679.9 131.7 L680.0 128.9 L680.1 130.6 L680.2 129.0 L680.3 131.9 L680.4 130.3 L680.5 127.5 L680.6 136.9 L680.7 131.5 L680.8 128.3 L680.9 133.5 L681.0 135.0 L681.1 131.6 L681.2 136.7 L681.3 128.5 L681.4 132.4 L681.5 132.2 L681.6 132.1 L681.7 133.2 L681.8 130.5 L681.9 129.0 L682.0 124.8 L682.1 125.6 L682.2 123.6 L682.3 121.3 L682.4 122.1 L682.5 125.2 L682.6 124.2 L682.7 122.2 L682.8 125.0 L682.9 122.3 L683.0 124.8 L683.1 125.8 L683.2 125.5 L683.3 128.3 L683.4 128.4 L683.5 130.1 L683.6 130.6 L683.7 131.3 L683.8 137.6 L683.9 131.1 L684.0 131.2 L684.1 133.5 L684.2 126.5 L684.3 131.9 L684.4 130.5 L684.5 134.7 L684.6 132.5 L684.7 132.2 L684.8 131.5 L684.9 132.8 L685.0 132.5 L685.1 134.8 L685.2 128.9 L685.3 126.2 L685.4 130.8 L685.5 133.4 L685.6 137.9 L685.7 139.0 L685.8 140.8 L685.9 139.9 L686.0 141.0 L686.1 139.0 L686.2 142.2 L686.3 137.9 L686.4 141.5 L686.5 134.5 L686.6 135.7 L686.7 138.1 L686.8 136.2 L686.9 136.5 L687.0 135.6 L687.1 137.0 L687.2 139.7 L687.3 143.6 L687.4 145.7 L687.5 137.7 L687.6 135.3 L687.7 133.6 L687.8 137.7 L687.9 135.4 L688.0 135.1 L688.1 134.6 L688.2 135.5 L688.3 137.0 L688.4 134.4 L688.5 140.8 L688.6 135.5 L688.7 144.9" fill="none" stroke="#83c9ff" stroke-width="1.7" stroke-linejoin="round" stroke-linecap="round"/><g font-family="'Liberation Sans', sans-serif" font-size="10.4" fill="#cfd3da" font-weight="bold"><text transform="translate(97.2,130.1) scale(0.9,1)" text-anchor="end">35</text><text transform="translate(97.2,157.0) scale(0.9,1)" text-anchor="end">30</text><text transform="translate(97.2,187.5) scale(0.9,1)" text-anchor="end">25</text><text transform="translate(97.2,218.0) scale(0.9,1)" text-anchor="end">20</text><text transform="translate(97.2,248.5) scale(0.9,1)" text-anchor="end">15</text><text transform="translate(97.2,279.0) scale(0.9,1)" text-anchor="end">10</text><text transform="translate(97.2,309.5) scale(0.9,1)" text-anchor="end">5</text><text transform="translate(97.2,335.0) scale(0.9,1)" text-anchor="end">0</text><text transform="translate(120.9,358) scale(0.9,1)" text-anchor="middle">2001</text><text transform="translate(160.9,358) scale(0.9,1)" text-anchor="middle">2003</text><text transform="translate(210.1,358) scale(0.9,1)" text-anchor="middle">2005</text><text transform="translate(259.3,358) scale(0.9,1)" text-anchor="middle">2007</text><text transform="translate(308.5,358) scale(0.9,1)" text-anchor="middle">2009</text><text transform="translate(357.7,358) scale(0.9,1)" text-anchor="middle">2011</text><text transform="translate(406.9,358) scale(0.9,1)" text-anchor="middle">2013</text><text transform="translate(456.1,358) scale(0.9,1)" text-anchor="middle">2015</text><text transform="translate(505.3,358) scale(0.9,1)" text-anchor="middle">2017</text><text transform="translate(554.5,358) scale(0.9,1)" text-anchor="middle">2019</text><text transform="translate(603.7,358) scale(0.9,1)" text-anchor="middle">2021</text><text transform="translate(652.9,358) scale(0.9,1)" text-anchor="middle">2023</text></g><rect x="118.2" y="389.6" width="8.6" height="3.3" fill="#83c9ff"/><text x="132" y="394.7" font-family="'Liberation Sans', sans-serif" font-size="11" letter-spacing="-0.2" fill="#e6eaf1">Close</text></svg>
<h1 id="t2">Fim do app</h1>
</body></html>
